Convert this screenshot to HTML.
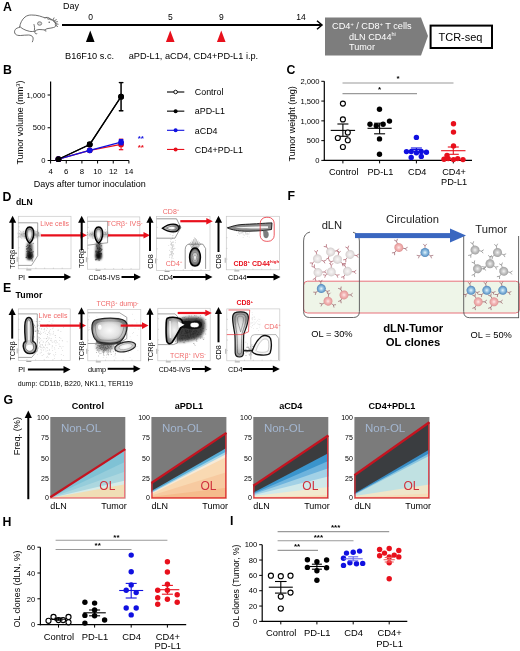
<!DOCTYPE html>
<html><head><meta charset="utf-8"><style>
html,body{margin:0;padding:0;background:#fff;}
body{width:520px;height:651px;overflow:hidden;}
svg{display:block;font-family:'Liberation Sans', Arial, Helvetica, sans-serif;}
</style></head><body>
<svg width="520" height="651" viewBox="0 0 520 651">
<rect width="520" height="651" fill="#fff"/>
<text x="3.0" y="10.6" font-size="12.3" text-anchor="start" fill="#000" font-weight="bold" >A</text>
<g fill="none" stroke="#4a4a4a" stroke-width="0.8" stroke-linecap="round" stroke-linejoin="round">
<path d="M19.8,26.5 C20,23.5 22,19.5 25,17 C27,15.5 29,15 31.5,15 C34.5,15 37,15.3 39.5,16 C41.5,16.6 43.2,17.3 45,17.8"/>
<path d="M45,17.8 C46.5,17 48.5,17.3 49.8,18.5 C51.5,19.3 53.2,20.2 54.4,21.3 C55.5,22.5 56.2,24 56,25.3 C55.7,26.5 54.8,27.2 53.5,27.5 C52,28 50,28.2 48,28.5 C46.5,28.8 45.3,29.3 45,30 C44.8,30.7 45.2,31.2 46,31.1"/>
<path d="M45,30 C43.5,29.9 41,29.4 39,29.5 C37.3,29.6 36,30.2 35.2,31 C34.5,31.8 34.8,33 35.5,33.6 C36,34 36.8,34 37,33.6"/>
<path d="M35.2,31 C33.5,31.6 31.5,31.7 29.5,31.3 C27,30.8 25,30 23.2,29 C21.8,28.3 20.5,27.5 19.8,26.5"/>
<path d="M19.8,27.3 C18,27.6 16.2,28.3 15.2,29.6 C14.3,31 14.3,32.8 15.3,34 C16.5,35.3 18.5,35.6 20.5,35.5 C23,35.3 26,35 28.5,35 C30.5,35.1 32,35.8 32.8,37 C33.4,38.3 33.2,40 32.4,41.8"/>
<path d="M34,24.5 C34.6,26.5 34.8,28.5 34.4,30.2"/>
<path d="M46.3,17.6 C47,18.6 48,19.2 49,19.4 M48.8,18.2 C49.6,19.2 50.4,19.8 51.4,20"/>
<path d="M53.5,21.3 l2.8,-1.6 M54.5,22.3 l3,-0.6 M55.3,23.6 l2.8,0.6 M55.2,25 l2.4,1.5 M52.8,20.3 l1.2,-2.4"/>
</g>
<ellipse cx="39.6" cy="23.5" rx="2.1" ry="1.75" fill="#ddd" stroke="#555" stroke-width="0.7"/>
<circle cx="49.2" cy="22.2" r="0.7" fill="#444"/>
<text x="63" y="8.8" font-size="9" text-anchor="start" fill="#000" >Day</text>
<line x1="62" y1="25" x2="321.5" y2="25" stroke="#000" stroke-width="1.8" />
<polyline points="317,20.8 322,25 317,29.2" fill="none" stroke="#000" stroke-width="1.5"/>
<text x="90.6" y="20.2" font-size="8.5" text-anchor="middle" fill="#000" >0</text>
<text x="170.3" y="20.2" font-size="8.5" text-anchor="middle" fill="#000" >5</text>
<text x="221.3" y="20.2" font-size="8.5" text-anchor="middle" fill="#000" >9</text>
<text x="301" y="20.2" font-size="8.5" text-anchor="middle" fill="#000" >14</text>
<polygon points="85.95,42 94.55,42 90.25,30.5" fill="#000"/>
<polygon points="165.95,42 174.55,42 170.25,30.5" fill="#e8101c"/>
<polygon points="216.95,42 225.55,42 221.25,30.5" fill="#e8101c"/>
<text x="65" y="58.8" font-size="9.2" text-anchor="start" fill="#000" >B16F10 s.c.</text>
<text x="128.7" y="58.8" font-size="9.2" text-anchor="start" fill="#000" >aPD-L1, aCD4, CD4+PD-L1 i.p.</text>
<polygon points="325,17.5 421,17.5 428,36 421,55.4 325,55.4" fill="#7d7d7d"/>
<text x="332" y="29.3" font-size="9.2" text-anchor="start" fill="#fff" >CD4<tspan font-size="5.5" dy="-3.5">+</tspan><tspan dy="3.5"> / CD8</tspan><tspan font-size="5.5" dy="-3.5">+</tspan><tspan dy="3.5"> T cells</tspan></text>
<text x="349" y="39.8" font-size="9.1" text-anchor="start" fill="#fff" >dLN CD44<tspan font-size="5.5" dy="-3.5">hi</tspan></text>
<text x="349" y="49.9" font-size="9.1" text-anchor="start" fill="#fff" >Tumor</text>
<rect x="430.6" y="25.6" width="61.4" height="22.4" fill="#fff" stroke="#000" stroke-width="2"/>
<text x="460.5" y="41.2" font-size="11" text-anchor="middle" fill="#000" >TCR-seq</text>
<text x="3.0" y="74.2" font-size="12.3" text-anchor="start" fill="#000" font-weight="bold" >B</text>
<line x1="50.6" y1="81.6" x2="50.6" y2="161.1" stroke="#000" stroke-width="1.2" />
<line x1="50.0" y1="160.5" x2="128.9" y2="160.5" stroke="#000" stroke-width="1.2" />
<line x1="47.6" y1="95.0" x2="50.6" y2="95.0" stroke="#000" stroke-width="1" />
<text x="45.5" y="97.7" font-size="7.6" text-anchor="end" fill="#000" >1,000</text>
<line x1="47.6" y1="127.75" x2="50.6" y2="127.75" stroke="#000" stroke-width="1" />
<text x="45.5" y="130.45" font-size="7.6" text-anchor="end" fill="#000" >500</text>
<line x1="47.6" y1="160.5" x2="50.6" y2="160.5" stroke="#000" stroke-width="1" />
<text x="45.5" y="163.2" font-size="7.6" text-anchor="end" fill="#000" >0</text>
<line x1="50.6" y1="160.5" x2="50.6" y2="163.5" stroke="#000" stroke-width="1" />
<text x="50.6" y="173.7" font-size="7.8" text-anchor="middle" fill="#000" >4</text>
<line x1="66.26" y1="160.5" x2="66.26" y2="163.5" stroke="#000" stroke-width="1" />
<text x="66.26" y="173.7" font-size="7.8" text-anchor="middle" fill="#000" >6</text>
<line x1="81.92" y1="160.5" x2="81.92" y2="163.5" stroke="#000" stroke-width="1" />
<text x="81.92" y="173.7" font-size="7.8" text-anchor="middle" fill="#000" >8</text>
<line x1="97.58000000000001" y1="160.5" x2="97.58000000000001" y2="163.5" stroke="#000" stroke-width="1" />
<text x="97.58000000000001" y="173.7" font-size="7.8" text-anchor="middle" fill="#000" >10</text>
<line x1="113.24000000000001" y1="160.5" x2="113.24000000000001" y2="163.5" stroke="#000" stroke-width="1" />
<text x="113.24000000000001" y="173.7" font-size="7.8" text-anchor="middle" fill="#000" >12</text>
<line x1="128.9" y1="160.5" x2="128.9" y2="163.5" stroke="#000" stroke-width="1" />
<text x="128.9" y="173.7" font-size="7.8" text-anchor="middle" fill="#000" >14</text>
<text x="33.8" y="186.5" font-size="9.0" text-anchor="start" fill="#000" >Days after tumor inoculation</text>
<text transform="translate(23.3,122.5) rotate(-90)" font-size="9.0" text-anchor="middle">Tumor volume (mm<tspan font-size="5.8" dy="-3.4">3</tspan><tspan dy="3.4">)</tspan></text>
<line x1="58.43" y1="158.666" x2="58.43" y2="159.714" stroke="#000" stroke-width="1" />
<line x1="56.23" y1="158.666" x2="60.63" y2="158.666" stroke="#000" stroke-width="1.2" />
<line x1="56.23" y1="159.714" x2="60.63" y2="159.714" stroke="#000" stroke-width="1.2" />
<line x1="89.75" y1="142.4875" x2="89.75" y2="146.4175" stroke="#000" stroke-width="1" />
<line x1="87.55" y1="142.4875" x2="91.95" y2="142.4875" stroke="#000" stroke-width="1.2" />
<line x1="87.55" y1="146.4175" x2="91.95" y2="146.4175" stroke="#000" stroke-width="1.2" />
<line x1="121.07" y1="82.55499999999999" x2="121.07" y2="110.72" stroke="#000" stroke-width="1" />
<line x1="118.86999999999999" y1="82.55499999999999" x2="123.27" y2="82.55499999999999" stroke="#000" stroke-width="1.2" />
<line x1="118.86999999999999" y1="110.72" x2="123.27" y2="110.72" stroke="#000" stroke-width="1.2" />
<polyline points="58.43,159.19 89.75,144.45 121.07,96.64" fill="none" stroke="#000" stroke-width="1.2"/>
<circle cx="58.43" cy="159.19" r="2.9" fill="#000" stroke="none" stroke-width="1"/>
<circle cx="89.75" cy="144.45" r="2.9" fill="#000" stroke="none" stroke-width="1"/>
<circle cx="121.07" cy="96.64" r="2.9" fill="#000" stroke="none" stroke-width="1"/>
<line x1="58.43" y1="158.666" x2="58.43" y2="159.714" stroke="#e8101c" stroke-width="1" />
<line x1="56.23" y1="158.666" x2="60.63" y2="158.666" stroke="#e8101c" stroke-width="1.2" />
<line x1="56.23" y1="159.714" x2="60.63" y2="159.714" stroke="#e8101c" stroke-width="1.2" />
<line x1="89.75" y1="149.0375" x2="89.75" y2="151.6575" stroke="#e8101c" stroke-width="1" />
<line x1="87.55" y1="149.0375" x2="91.95" y2="149.0375" stroke="#e8101c" stroke-width="1.2" />
<line x1="87.55" y1="151.6575" x2="91.95" y2="151.6575" stroke="#e8101c" stroke-width="1.2" />
<line x1="121.07" y1="139.2125" x2="121.07" y2="149.6925" stroke="#e8101c" stroke-width="1" />
<line x1="118.86999999999999" y1="139.2125" x2="123.27" y2="139.2125" stroke="#e8101c" stroke-width="1.2" />
<line x1="118.86999999999999" y1="149.6925" x2="123.27" y2="149.6925" stroke="#e8101c" stroke-width="1.2" />
<polyline points="58.43,159.19 89.75,150.35 121.07,144.45" fill="none" stroke="#e8101c" stroke-width="1.2"/>
<circle cx="58.43" cy="159.19" r="2.9" fill="#e8101c" stroke="none" stroke-width="1"/>
<circle cx="89.75" cy="150.35" r="2.9" fill="#e8101c" stroke="none" stroke-width="1"/>
<circle cx="121.07" cy="144.45" r="2.9" fill="#e8101c" stroke="none" stroke-width="1"/>
<line x1="58.43" y1="158.666" x2="58.43" y2="159.714" stroke="#1010e0" stroke-width="1" />
<line x1="56.23" y1="158.666" x2="60.63" y2="158.666" stroke="#1010e0" stroke-width="1.2" />
<line x1="56.23" y1="159.714" x2="60.63" y2="159.714" stroke="#1010e0" stroke-width="1.2" />
<line x1="89.75" y1="149.0375" x2="89.75" y2="151.6575" stroke="#1010e0" stroke-width="1" />
<line x1="87.55" y1="149.0375" x2="91.95" y2="149.0375" stroke="#1010e0" stroke-width="1.2" />
<line x1="87.55" y1="151.6575" x2="91.95" y2="151.6575" stroke="#1010e0" stroke-width="1.2" />
<line x1="121.07" y1="139.54" x2="121.07" y2="144.78" stroke="#1010e0" stroke-width="1" />
<line x1="118.86999999999999" y1="139.54" x2="123.27" y2="139.54" stroke="#1010e0" stroke-width="1.2" />
<line x1="118.86999999999999" y1="144.78" x2="123.27" y2="144.78" stroke="#1010e0" stroke-width="1.2" />
<polyline points="58.43,159.19 89.75,150.35 121.07,142.16" fill="none" stroke="#1010e0" stroke-width="1.2"/>
<circle cx="58.43" cy="159.19" r="2.9" fill="#1010e0" stroke="none" stroke-width="1"/>
<circle cx="89.75" cy="150.35" r="2.9" fill="#1010e0" stroke="none" stroke-width="1"/>
<circle cx="121.07" cy="142.16" r="2.9" fill="#1010e0" stroke="none" stroke-width="1"/>
<line x1="58.43" y1="158.666" x2="58.43" y2="159.714" stroke="#000" stroke-width="1" />
<line x1="56.23" y1="158.666" x2="60.63" y2="158.666" stroke="#000" stroke-width="1.2" />
<line x1="56.23" y1="159.714" x2="60.63" y2="159.714" stroke="#000" stroke-width="1.2" />
<line x1="89.75" y1="142.4875" x2="89.75" y2="146.4175" stroke="#000" stroke-width="1" />
<line x1="87.55" y1="142.4875" x2="91.95" y2="142.4875" stroke="#000" stroke-width="1.2" />
<line x1="87.55" y1="146.4175" x2="91.95" y2="146.4175" stroke="#000" stroke-width="1.2" />
<line x1="121.07" y1="82.55499999999999" x2="121.07" y2="110.72" stroke="#000" stroke-width="1" />
<line x1="118.86999999999999" y1="82.55499999999999" x2="123.27" y2="82.55499999999999" stroke="#000" stroke-width="1.2" />
<line x1="118.86999999999999" y1="110.72" x2="123.27" y2="110.72" stroke="#000" stroke-width="1.2" />
<polyline points="58.43,159.19 89.75,144.45 121.07,96.64" fill="none" stroke="#000" stroke-width="1.2"/>
<circle cx="58.43" cy="159.19" r="2.9" fill="#000" stroke="none" stroke-width="1"/>
<circle cx="89.75" cy="144.45" r="2.9" fill="#000" stroke="none" stroke-width="1"/>
<circle cx="121.07" cy="96.64" r="2.9" fill="#000" stroke="none" stroke-width="1"/>
<text x="140.8" y="140.98" font-size="8.0" text-anchor="middle" fill="#1010e0" font-weight="bold" >**</text>
<text x="140.8" y="150.28" font-size="8.0" text-anchor="middle" fill="#e8101c" font-weight="bold" >**</text>
<line x1="167" y1="92.0" x2="184.3" y2="92.0" stroke="#000" stroke-width="1.1" />
<circle cx="175.60" cy="92.00" r="1.8" fill="#fff" stroke="#000" stroke-width="0.9"/>
<text x="194.8" y="95.2" font-size="8.9" text-anchor="start" fill="#000" >Control</text>
<line x1="167" y1="111.15" x2="184.3" y2="111.15" stroke="#000" stroke-width="1.1" />
<circle cx="175.60" cy="111.15" r="2.0" fill="#000" stroke="none" stroke-width="1"/>
<text x="194.8" y="114.35000000000001" font-size="8.9" text-anchor="start" fill="#000" >aPD-L1</text>
<line x1="167" y1="130.3" x2="184.3" y2="130.3" stroke="#1010e0" stroke-width="1.1" />
<circle cx="175.60" cy="130.30" r="2.0" fill="#1010e0" stroke="none" stroke-width="1"/>
<text x="194.8" y="133.5" font-size="8.9" text-anchor="start" fill="#000" >aCD4</text>
<line x1="167" y1="149.45" x2="184.3" y2="149.45" stroke="#e8101c" stroke-width="1.1" />
<circle cx="175.60" cy="149.45" r="2.0" fill="#e8101c" stroke="none" stroke-width="1"/>
<text x="194.8" y="152.64999999999998" font-size="8.9" text-anchor="start" fill="#000" >CD4+PD-L1</text>
<text x="286.6" y="74.3" font-size="12.3" text-anchor="start" fill="#000" font-weight="bold" >C</text>
<line x1="324.3" y1="81.3" x2="324.3" y2="161.0" stroke="#000" stroke-width="1.2" />
<line x1="323.7" y1="160.4" x2="472" y2="160.4" stroke="#000" stroke-width="1.2" />
<line x1="321.3" y1="160.4" x2="324.3" y2="160.4" stroke="#000" stroke-width="1" />
<text x="319.5" y="163.1" font-size="7.6" text-anchor="end" fill="#000" >0</text>
<line x1="321.3" y1="140.625" x2="324.3" y2="140.625" stroke="#000" stroke-width="1" />
<text x="319.5" y="143.325" font-size="7.6" text-anchor="end" fill="#000" >500</text>
<line x1="321.3" y1="120.85000000000001" x2="324.3" y2="120.85000000000001" stroke="#000" stroke-width="1" />
<text x="319.5" y="123.55000000000001" font-size="7.6" text-anchor="end" fill="#000" >1,000</text>
<line x1="321.3" y1="101.07500000000002" x2="324.3" y2="101.07500000000002" stroke="#000" stroke-width="1" />
<text x="319.5" y="103.77500000000002" font-size="7.6" text-anchor="end" fill="#000" >1,500</text>
<line x1="321.3" y1="81.30000000000001" x2="324.3" y2="81.30000000000001" stroke="#000" stroke-width="1" />
<text x="319.5" y="84.00000000000001" font-size="7.6" text-anchor="end" fill="#000" >2,000</text>
<text transform="translate(295.4,123.9) rotate(-90)" font-size="9.0" text-anchor="middle">Tumor weight (mg)</text>
<line x1="342.9" y1="160.4" x2="342.9" y2="163.4" stroke="#000" stroke-width="1" />
<line x1="379.6" y1="160.4" x2="379.6" y2="163.4" stroke="#000" stroke-width="1" />
<line x1="416.4" y1="160.4" x2="416.4" y2="163.4" stroke="#000" stroke-width="1" />
<line x1="453.3" y1="160.4" x2="453.3" y2="163.4" stroke="#000" stroke-width="1" />
<text x="343.7" y="175.2" font-size="9.2" text-anchor="middle" fill="#000" >Control</text>
<text x="380.40000000000003" y="175.2" font-size="9.2" text-anchor="middle" fill="#000" >PD-L1</text>
<text x="417.2" y="175.2" font-size="9.2" text-anchor="middle" fill="#000" >CD4</text>
<text x="454.1" y="175.2" font-size="9.2" text-anchor="middle" fill="#000" >CD4+</text>
<text x="454.1" y="184.9" font-size="9.2" text-anchor="middle" fill="#000" >PD-L1</text>
<line x1="342.5" y1="83" x2="453.5" y2="83" stroke="#9a9a9a" stroke-width="1.1" />
<line x1="342.5" y1="93.6" x2="417" y2="93.6" stroke="#9a9a9a" stroke-width="1.1" />
<text x="398" y="80.98" font-size="8.0" text-anchor="middle" fill="#000" font-weight="bold" >*</text>
<text x="379.5" y="91.68" font-size="8.0" text-anchor="middle" fill="#000" font-weight="bold" >*</text>
<line x1="330.7" y1="130.4" x2="355.09999999999997" y2="130.4" stroke="#000" stroke-width="1.1" />
<line x1="342.9" y1="124" x2="342.9" y2="136.3" stroke="#000" stroke-width="1.1" />
<line x1="337.4" y1="124" x2="348.4" y2="124" stroke="#000" stroke-width="1.1" />
<line x1="337.4" y1="136.3" x2="348.4" y2="136.3" stroke="#000" stroke-width="1.1" />
<circle cx="342.90" cy="103.60" r="2.5" fill="#fff" stroke="#000" stroke-width="1.15"/>
<circle cx="342.90" cy="119.40" r="2.5" fill="#fff" stroke="#000" stroke-width="1.15"/>
<circle cx="347.80" cy="132.50" r="2.5" fill="#fff" stroke="#000" stroke-width="1.15"/>
<circle cx="337.80" cy="138.00" r="2.5" fill="#fff" stroke="#000" stroke-width="1.15"/>
<circle cx="347.80" cy="140.20" r="2.5" fill="#fff" stroke="#000" stroke-width="1.15"/>
<circle cx="342.90" cy="147.00" r="2.5" fill="#fff" stroke="#000" stroke-width="1.15"/>
<circle cx="379.50" cy="109.30" r="2.7" fill="#000" stroke="none" stroke-width="1"/>
<circle cx="370.00" cy="124.30" r="2.7" fill="#000" stroke="none" stroke-width="1"/>
<circle cx="376.30" cy="125.80" r="2.7" fill="#000" stroke="none" stroke-width="1"/>
<circle cx="383.10" cy="124.30" r="2.7" fill="#000" stroke="none" stroke-width="1"/>
<circle cx="389.50" cy="121.10" r="2.7" fill="#000" stroke="none" stroke-width="1"/>
<circle cx="379.50" cy="138.90" r="2.7" fill="#000" stroke="none" stroke-width="1"/>
<circle cx="379.50" cy="154.30" r="2.7" fill="#000" stroke="none" stroke-width="1"/>
<line x1="367.5" y1="128.3" x2="391.70000000000005" y2="128.3" stroke="#000" stroke-width="1.1" />
<line x1="379.6" y1="123.2" x2="379.6" y2="133.8" stroke="#000" stroke-width="1.1" />
<line x1="374.1" y1="123.2" x2="385.1" y2="123.2" stroke="#000" stroke-width="1.1" />
<line x1="374.1" y1="133.8" x2="385.1" y2="133.8" stroke="#000" stroke-width="1.1" />
<circle cx="416.40" cy="137.40" r="2.7" fill="#1010e0" stroke="none" stroke-width="1"/>
<circle cx="406.50" cy="151.60" r="2.7" fill="#1010e0" stroke="none" stroke-width="1"/>
<circle cx="411.20" cy="151.60" r="2.7" fill="#1010e0" stroke="none" stroke-width="1"/>
<circle cx="416.40" cy="152.80" r="2.7" fill="#1010e0" stroke="none" stroke-width="1"/>
<circle cx="421.30" cy="151.60" r="2.7" fill="#1010e0" stroke="none" stroke-width="1"/>
<circle cx="426.40" cy="152.20" r="2.7" fill="#1010e0" stroke="none" stroke-width="1"/>
<circle cx="411.20" cy="157.50" r="2.7" fill="#1010e0" stroke="none" stroke-width="1"/>
<circle cx="421.30" cy="156.40" r="2.7" fill="#1010e0" stroke="none" stroke-width="1"/>
<line x1="410.0" y1="149.5" x2="422.79999999999995" y2="149.5" stroke="#1010e0" stroke-width="1.1" />
<line x1="416.4" y1="148" x2="416.4" y2="151.3" stroke="#1010e0" stroke-width="1.1" />
<line x1="410.9" y1="148" x2="421.9" y2="148" stroke="#1010e0" stroke-width="1.1" />
<line x1="410.9" y1="151.3" x2="421.9" y2="151.3" stroke="#1010e0" stroke-width="1.1" />
<circle cx="453.50" cy="123.70" r="2.7" fill="#e8101c" stroke="none" stroke-width="1"/>
<circle cx="453.50" cy="132.10" r="2.7" fill="#e8101c" stroke="none" stroke-width="1"/>
<circle cx="453.50" cy="145.90" r="2.7" fill="#e8101c" stroke="none" stroke-width="1"/>
<circle cx="444.00" cy="159.20" r="2.7" fill="#e8101c" stroke="none" stroke-width="1"/>
<circle cx="448.20" cy="158.60" r="2.7" fill="#e8101c" stroke="none" stroke-width="1"/>
<circle cx="453.50" cy="159.60" r="2.7" fill="#e8101c" stroke="none" stroke-width="1"/>
<circle cx="457.70" cy="158.60" r="2.7" fill="#e8101c" stroke="none" stroke-width="1"/>
<circle cx="463.00" cy="159.60" r="2.7" fill="#e8101c" stroke="none" stroke-width="1"/>
<circle cx="447.00" cy="155.40" r="2.7" fill="#e8101c" stroke="none" stroke-width="1"/>
<line x1="441.1" y1="150.7" x2="465.5" y2="150.7" stroke="#e8101c" stroke-width="1.1" />
<line x1="453.3" y1="147" x2="453.3" y2="154.3" stroke="#e8101c" stroke-width="1.1" />
<line x1="447.8" y1="147" x2="458.8" y2="147" stroke="#e8101c" stroke-width="1.1" />
<line x1="447.8" y1="154.3" x2="458.8" y2="154.3" stroke="#e8101c" stroke-width="1.1" />
<defs><filter id="blr" x="-30%" y="-30%" width="160%" height="160%"><feGaussianBlur stdDeviation="1.6"/></filter><filter id="blr2" x="-30%" y="-30%" width="160%" height="160%"><feGaussianBlur stdDeviation="0.8"/></filter></defs>
<text x="2.6" y="200.8" font-size="12.3" text-anchor="start" fill="#000" font-weight="bold" >D</text>
<text x="16" y="205.4" font-size="8.6" text-anchor="start" fill="#000" font-weight="bold" >dLN</text>
<rect x="18.3" y="216.3" width="52.7" height="52.5" fill="#fff" stroke="#c8c8c8" stroke-width="0.7"/>
<line x1="27.083333333333336" y1="267.6" x2="27.083333333333336" y2="268.8" stroke="#aaa" stroke-width="0.4" />
<line x1="35.86666666666667" y1="267.6" x2="35.86666666666667" y2="268.8" stroke="#aaa" stroke-width="0.4" />
<line x1="44.650000000000006" y1="267.6" x2="44.650000000000006" y2="268.8" stroke="#aaa" stroke-width="0.4" />
<line x1="53.43333333333334" y1="267.6" x2="53.43333333333334" y2="268.8" stroke="#aaa" stroke-width="0.4" />
<line x1="62.21666666666667" y1="267.6" x2="62.21666666666667" y2="268.8" stroke="#aaa" stroke-width="0.4" />
<line x1="18.3" y1="226.8" x2="19.5" y2="226.8" stroke="#aaa" stroke-width="0.4" />
<line x1="18.3" y1="237.3" x2="19.5" y2="237.3" stroke="#aaa" stroke-width="0.4" />
<line x1="18.3" y1="247.8" x2="19.5" y2="247.8" stroke="#aaa" stroke-width="0.4" />
<line x1="18.3" y1="258.3" x2="19.5" y2="258.3" stroke="#aaa" stroke-width="0.4" />
<rect x="26.3" y="269.40000000000003" width="5" height="1" fill="#666" opacity="0.6"/>
<rect x="16.7" y="256.8" width="1" height="5" fill="#666" opacity="0.5"/>
<polyline points="18.3,222.8 37.7,222.8 37.7,255.8 31.5,265.4 18.3,265.4" fill="none" stroke="#666" stroke-width="0.6"/>
<ellipse cx="29.7" cy="234.6" rx="11" ry="3.6" fill="#777" opacity="0.45" filter="url(#blr2)"/>
<g fill="#333" opacity="0.45"><circle cx="28.2" cy="235.6" r="0.4"/><circle cx="28.3" cy="233.8" r="0.4"/><circle cx="24.1" cy="234.0" r="0.4"/><circle cx="36.4" cy="235.4" r="0.4"/><circle cx="35.9" cy="235.0" r="0.4"/><circle cx="32.1" cy="234.9" r="0.4"/><circle cx="19.7" cy="236.4" r="0.4"/><circle cx="32.7" cy="235.6" r="0.4"/><circle cx="19.6" cy="230.7" r="0.4"/><circle cx="24.4" cy="233.5" r="0.4"/><circle cx="31.5" cy="234.4" r="0.4"/><circle cx="32.8" cy="233.1" r="0.4"/><circle cx="31.6" cy="235.4" r="0.4"/><circle cx="25.7" cy="238.3" r="0.4"/><circle cx="33.0" cy="237.1" r="0.4"/><circle cx="26.0" cy="232.9" r="0.4"/><circle cx="27.6" cy="234.3" r="0.4"/><circle cx="33.5" cy="235.0" r="0.4"/><circle cx="27.0" cy="232.4" r="0.4"/><circle cx="26.6" cy="237.2" r="0.4"/><circle cx="24.9" cy="235.0" r="0.4"/><circle cx="32.3" cy="231.2" r="0.4"/><circle cx="30.0" cy="237.4" r="0.4"/><circle cx="29.1" cy="232.7" r="0.4"/><circle cx="32.7" cy="234.4" r="0.4"/><circle cx="20.9" cy="236.3" r="0.4"/><circle cx="33.7" cy="236.6" r="0.4"/><circle cx="38.3" cy="235.3" r="0.4"/><circle cx="30.4" cy="231.6" r="0.4"/><circle cx="33.4" cy="233.2" r="0.4"/><circle cx="27.0" cy="231.7" r="0.4"/><circle cx="23.9" cy="233.3" r="0.4"/><circle cx="37.4" cy="230.0" r="0.4"/><circle cx="21.0" cy="235.0" r="0.4"/><circle cx="38.4" cy="235.8" r="0.4"/><circle cx="31.8" cy="232.9" r="0.4"/><circle cx="23.0" cy="236.7" r="0.4"/><circle cx="36.3" cy="234.8" r="0.4"/><circle cx="31.2" cy="235.5" r="0.4"/><circle cx="39.3" cy="235.9" r="0.4"/><circle cx="32.8" cy="235.7" r="0.4"/><circle cx="20.3" cy="237.3" r="0.4"/><circle cx="35.4" cy="235.7" r="0.4"/><circle cx="17.9" cy="233.1" r="0.4"/><circle cx="34.8" cy="230.5" r="0.4"/><circle cx="28.6" cy="236.7" r="0.4"/><circle cx="21.8" cy="238.0" r="0.4"/><circle cx="33.0" cy="234.2" r="0.4"/><circle cx="31.6" cy="235.9" r="0.4"/><circle cx="30.4" cy="237.0" r="0.4"/><circle cx="25.7" cy="233.6" r="0.4"/><circle cx="36.0" cy="234.6" r="0.4"/><circle cx="24.4" cy="236.6" r="0.4"/><circle cx="38.5" cy="233.5" r="0.4"/><circle cx="21.4" cy="234.2" r="0.4"/><circle cx="28.8" cy="233.8" r="0.4"/><circle cx="38.1" cy="232.2" r="0.4"/><circle cx="37.3" cy="231.7" r="0.4"/><circle cx="25.0" cy="235.9" r="0.4"/><circle cx="36.5" cy="236.4" r="0.4"/><circle cx="31.8" cy="234.8" r="0.4"/><circle cx="30.6" cy="235.8" r="0.4"/><circle cx="28.6" cy="235.1" r="0.4"/><circle cx="33.1" cy="234.5" r="0.4"/><circle cx="34.3" cy="235.7" r="0.4"/><circle cx="41.8" cy="235.2" r="0.4"/><circle cx="27.1" cy="233.7" r="0.4"/><circle cx="29.6" cy="236.5" r="0.4"/><circle cx="27.7" cy="235.3" r="0.4"/><circle cx="23.0" cy="235.0" r="0.4"/><circle cx="32.1" cy="235.0" r="0.4"/><circle cx="27.1" cy="235.9" r="0.4"/><circle cx="31.4" cy="233.4" r="0.4"/><circle cx="26.4" cy="234.3" r="0.4"/><circle cx="28.3" cy="234.4" r="0.4"/><circle cx="35.8" cy="231.9" r="0.4"/><circle cx="29.3" cy="236.6" r="0.4"/><circle cx="34.8" cy="237.8" r="0.4"/><circle cx="19.5" cy="233.7" r="0.4"/><circle cx="27.7" cy="235.9" r="0.4"/><circle cx="36.2" cy="231.3" r="0.4"/><circle cx="33.8" cy="231.2" r="0.4"/><circle cx="30.8" cy="237.1" r="0.4"/><circle cx="28.8" cy="234.9" r="0.4"/><circle cx="34.5" cy="234.8" r="0.4"/><circle cx="29.2" cy="237.9" r="0.4"/><circle cx="36.0" cy="233.9" r="0.4"/><circle cx="35.2" cy="233.9" r="0.4"/><circle cx="30.5" cy="236.1" r="0.4"/><circle cx="31.0" cy="235.9" r="0.4"/><circle cx="20.5" cy="231.2" r="0.4"/><circle cx="33.4" cy="232.4" r="0.4"/><circle cx="23.5" cy="231.3" r="0.4"/><circle cx="37.3" cy="236.1" r="0.4"/><circle cx="38.5" cy="232.4" r="0.4"/><circle cx="29.7" cy="232.0" r="0.4"/><circle cx="34.3" cy="238.0" r="0.4"/><circle cx="24.4" cy="237.9" r="0.4"/><circle cx="35.6" cy="234.1" r="0.4"/><circle cx="17.9" cy="237.6" r="0.4"/><circle cx="29.1" cy="233.2" r="0.4"/><circle cx="32.1" cy="235.4" r="0.4"/><circle cx="38.7" cy="232.3" r="0.4"/><circle cx="36.5" cy="237.8" r="0.4"/><circle cx="38.4" cy="234.1" r="0.4"/><circle cx="25.2" cy="236.7" r="0.4"/><circle cx="30.4" cy="234.8" r="0.4"/><circle cx="38.2" cy="233.9" r="0.4"/><circle cx="18.6" cy="236.3" r="0.4"/><circle cx="31.6" cy="233.2" r="0.4"/><circle cx="29.6" cy="236.3" r="0.4"/><circle cx="30.2" cy="237.4" r="0.4"/></g>
<path d="M27.099999999999998,243 C26.5,248 26.3,254 26.9,258.5 C28.2,260.5 31.2,260.5 32.5,258.5 C33.1,254 32.9,248 32.3,243 Z" fill="#444" opacity="0.9" filter="url(#blr2)"/>
<g fill="#111" opacity="0.7"><circle cx="29.6" cy="257.2" r="0.5"/><circle cx="32.4" cy="260.0" r="0.5"/><circle cx="28.5" cy="256.4" r="0.5"/><circle cx="26.3" cy="246.6" r="0.5"/><circle cx="26.2" cy="257.3" r="0.5"/><circle cx="27.5" cy="251.9" r="0.5"/><circle cx="29.4" cy="251.9" r="0.5"/><circle cx="28.6" cy="253.2" r="0.5"/><circle cx="32.9" cy="252.2" r="0.5"/><circle cx="30.7" cy="257.0" r="0.5"/><circle cx="29.3" cy="245.7" r="0.5"/><circle cx="28.7" cy="257.4" r="0.5"/><circle cx="26.7" cy="249.0" r="0.5"/><circle cx="31.5" cy="256.0" r="0.5"/><circle cx="29.7" cy="256.0" r="0.5"/><circle cx="30.0" cy="246.1" r="0.5"/><circle cx="26.9" cy="248.8" r="0.5"/><circle cx="31.4" cy="249.2" r="0.5"/><circle cx="28.1" cy="248.1" r="0.5"/><circle cx="26.9" cy="251.4" r="0.5"/><circle cx="27.6" cy="253.8" r="0.5"/><circle cx="28.5" cy="242.3" r="0.5"/><circle cx="31.0" cy="250.6" r="0.5"/><circle cx="30.2" cy="249.7" r="0.5"/><circle cx="31.1" cy="255.7" r="0.5"/><circle cx="30.9" cy="253.6" r="0.5"/><circle cx="32.1" cy="255.3" r="0.5"/><circle cx="31.3" cy="258.5" r="0.5"/><circle cx="29.2" cy="249.7" r="0.5"/><circle cx="33.2" cy="243.2" r="0.5"/><circle cx="28.0" cy="255.4" r="0.5"/><circle cx="33.1" cy="251.4" r="0.5"/><circle cx="30.7" cy="256.5" r="0.5"/><circle cx="28.1" cy="251.6" r="0.5"/><circle cx="30.2" cy="256.1" r="0.5"/><circle cx="29.6" cy="251.0" r="0.5"/><circle cx="27.9" cy="250.2" r="0.5"/><circle cx="31.3" cy="252.5" r="0.5"/><circle cx="28.2" cy="247.8" r="0.5"/><circle cx="30.8" cy="254.4" r="0.5"/><circle cx="32.7" cy="254.1" r="0.5"/><circle cx="29.6" cy="254.6" r="0.5"/><circle cx="26.2" cy="257.2" r="0.5"/><circle cx="30.3" cy="248.5" r="0.5"/><circle cx="32.1" cy="261.0" r="0.5"/><circle cx="27.2" cy="248.7" r="0.5"/><circle cx="30.2" cy="252.9" r="0.5"/><circle cx="29.0" cy="247.1" r="0.5"/><circle cx="27.6" cy="245.3" r="0.5"/><circle cx="32.8" cy="256.9" r="0.5"/><circle cx="33.0" cy="256.1" r="0.5"/><circle cx="28.1" cy="253.3" r="0.5"/><circle cx="29.6" cy="254.6" r="0.5"/><circle cx="28.4" cy="251.4" r="0.5"/><circle cx="30.5" cy="253.9" r="0.5"/><circle cx="30.8" cy="253.0" r="0.5"/><circle cx="29.1" cy="255.9" r="0.5"/><circle cx="29.8" cy="247.9" r="0.5"/><circle cx="28.6" cy="252.0" r="0.5"/><circle cx="29.5" cy="252.8" r="0.5"/><circle cx="29.7" cy="252.9" r="0.5"/><circle cx="29.5" cy="245.7" r="0.5"/></g>
<ellipse cx="29.7" cy="255.8" rx="2.8" ry="3.4" fill="#111" filter="url(#blr2)"/>
<defs><radialGradient id="g1"><stop offset="0" stop-color="#fdfdfd"/><stop offset="0.35" stop-color="#e8e8e8"/><stop offset="0.7" stop-color="#a8a8a8"/><stop offset="1" stop-color="#707070"/></radialGradient></defs>
<path d="M29.7,227 C35.64,227 34.54,239.2 29.7,243.2 C24.86,239.2 23.759999999999998,227 29.7,227 Z" fill="url(#g1)" stroke="#000" stroke-width="1.4"/>
<path d="M29.7,229.2 C33.345,229.2 32.67,236.8 29.7,240.8 C26.729999999999997,236.8 26.055,229.2 29.7,229.2 Z" fill="none" stroke="#555" stroke-width="0.5"/>
<text x="40.3" y="226.2" font-size="7.0" text-anchor="start" fill="#f06a6a" >Live cells</text>
<line x1="40.8" y1="235.3" x2="82" y2="235.3" stroke="#e8101c" stroke-width="2.2" />
<polygon points="80.5,232.0 80.5,238.60000000000002 87,235.3" fill="#e8101c"/>
<line x1="12.6" y1="220.8" x2="12.6" y2="249" stroke="#000" stroke-width="2" />
<polygon points="9.0,222.8 16.2,222.8 12.6,215.8" fill="#000"/>
<text transform="translate(15.2,259.3) rotate(-90)" font-size="7.3" text-anchor="middle">TCRβ</text>
<text x="18.2" y="279.6" font-size="7.3">PI</text>
<line x1="28.5" y1="277" x2="66.2" y2="277" stroke="#000" stroke-width="2" />
<polygon points="64.2,273.4 64.2,280.6 71.2,277" fill="#000"/>
<rect x="87.5" y="216.9" width="52.30000000000001" height="52.29999999999998" fill="#fff" stroke="#c8c8c8" stroke-width="0.7"/>
<line x1="96.21666666666667" y1="268.0" x2="96.21666666666667" y2="269.2" stroke="#aaa" stroke-width="0.4" />
<line x1="104.93333333333334" y1="268.0" x2="104.93333333333334" y2="269.2" stroke="#aaa" stroke-width="0.4" />
<line x1="113.65" y1="268.0" x2="113.65" y2="269.2" stroke="#aaa" stroke-width="0.4" />
<line x1="122.36666666666667" y1="268.0" x2="122.36666666666667" y2="269.2" stroke="#aaa" stroke-width="0.4" />
<line x1="131.08333333333334" y1="268.0" x2="131.08333333333334" y2="269.2" stroke="#aaa" stroke-width="0.4" />
<line x1="87.5" y1="227.36" x2="88.7" y2="227.36" stroke="#aaa" stroke-width="0.4" />
<line x1="87.5" y1="237.82" x2="88.7" y2="237.82" stroke="#aaa" stroke-width="0.4" />
<line x1="87.5" y1="248.28" x2="88.7" y2="248.28" stroke="#aaa" stroke-width="0.4" />
<line x1="87.5" y1="258.74" x2="88.7" y2="258.74" stroke="#aaa" stroke-width="0.4" />
<rect x="95.5" y="269.8" width="5" height="1" fill="#666" opacity="0.6"/>
<rect x="85.9" y="257.2" width="1" height="5" fill="#666" opacity="0.5"/>
<polyline points="87.5,221.3 107.6,221.3 107.6,242.8 100.4,243.6 87.7,245.2" fill="none" stroke="#666" stroke-width="0.6"/>
<ellipse cx="98.6" cy="234.6" rx="11" ry="3.6" fill="#777" opacity="0.45" filter="url(#blr2)"/>
<g fill="#333" opacity="0.45"><circle cx="101.1" cy="236.8" r="0.4"/><circle cx="101.2" cy="234.1" r="0.4"/><circle cx="101.3" cy="232.4" r="0.4"/><circle cx="87.2" cy="234.6" r="0.4"/><circle cx="93.0" cy="236.1" r="0.4"/><circle cx="92.4" cy="238.0" r="0.4"/><circle cx="96.3" cy="231.5" r="0.4"/><circle cx="94.0" cy="235.6" r="0.4"/><circle cx="101.6" cy="234.9" r="0.4"/><circle cx="107.5" cy="236.1" r="0.4"/><circle cx="98.5" cy="235.8" r="0.4"/><circle cx="108.5" cy="236.6" r="0.4"/><circle cx="104.7" cy="232.1" r="0.4"/><circle cx="97.7" cy="236.1" r="0.4"/><circle cx="96.8" cy="236.9" r="0.4"/><circle cx="102.2" cy="236.5" r="0.4"/><circle cx="97.3" cy="240.1" r="0.4"/><circle cx="106.0" cy="234.0" r="0.4"/><circle cx="99.1" cy="240.2" r="0.4"/><circle cx="96.5" cy="236.4" r="0.4"/><circle cx="104.5" cy="234.5" r="0.4"/><circle cx="91.6" cy="234.9" r="0.4"/><circle cx="100.8" cy="237.0" r="0.4"/><circle cx="103.3" cy="234.6" r="0.4"/><circle cx="103.7" cy="235.7" r="0.4"/><circle cx="99.8" cy="234.6" r="0.4"/><circle cx="97.1" cy="236.0" r="0.4"/><circle cx="92.3" cy="233.1" r="0.4"/><circle cx="98.6" cy="231.3" r="0.4"/><circle cx="96.0" cy="230.1" r="0.4"/><circle cx="94.5" cy="235.8" r="0.4"/><circle cx="102.0" cy="234.4" r="0.4"/><circle cx="97.2" cy="231.4" r="0.4"/><circle cx="109.6" cy="235.6" r="0.4"/><circle cx="105.2" cy="232.6" r="0.4"/><circle cx="97.5" cy="230.5" r="0.4"/><circle cx="103.3" cy="236.6" r="0.4"/><circle cx="87.2" cy="234.4" r="0.4"/><circle cx="102.4" cy="230.6" r="0.4"/><circle cx="87.6" cy="232.2" r="0.4"/><circle cx="94.8" cy="231.4" r="0.4"/><circle cx="98.8" cy="235.0" r="0.4"/><circle cx="102.4" cy="236.0" r="0.4"/><circle cx="107.6" cy="237.1" r="0.4"/><circle cx="90.7" cy="233.4" r="0.4"/><circle cx="92.2" cy="232.1" r="0.4"/><circle cx="98.1" cy="234.5" r="0.4"/><circle cx="101.5" cy="231.0" r="0.4"/><circle cx="91.2" cy="234.4" r="0.4"/><circle cx="97.4" cy="233.8" r="0.4"/><circle cx="98.2" cy="232.8" r="0.4"/><circle cx="102.8" cy="235.3" r="0.4"/><circle cx="98.1" cy="233.0" r="0.4"/><circle cx="92.7" cy="234.6" r="0.4"/><circle cx="89.6" cy="234.9" r="0.4"/><circle cx="99.5" cy="231.5" r="0.4"/><circle cx="97.1" cy="233.8" r="0.4"/><circle cx="101.4" cy="235.8" r="0.4"/><circle cx="98.4" cy="232.6" r="0.4"/><circle cx="97.7" cy="234.4" r="0.4"/><circle cx="103.0" cy="235.1" r="0.4"/><circle cx="94.3" cy="231.5" r="0.4"/><circle cx="96.4" cy="232.9" r="0.4"/><circle cx="91.9" cy="234.2" r="0.4"/><circle cx="95.7" cy="234.7" r="0.4"/><circle cx="101.7" cy="233.6" r="0.4"/><circle cx="105.2" cy="234.8" r="0.4"/><circle cx="105.3" cy="229.3" r="0.4"/><circle cx="94.1" cy="235.0" r="0.4"/><circle cx="102.2" cy="239.6" r="0.4"/><circle cx="100.5" cy="237.3" r="0.4"/><circle cx="103.2" cy="236.6" r="0.4"/><circle cx="101.7" cy="234.2" r="0.4"/><circle cx="101.7" cy="232.1" r="0.4"/><circle cx="105.7" cy="232.3" r="0.4"/><circle cx="100.1" cy="239.2" r="0.4"/><circle cx="97.3" cy="234.5" r="0.4"/><circle cx="105.6" cy="234.6" r="0.4"/><circle cx="93.8" cy="235.1" r="0.4"/><circle cx="102.1" cy="236.1" r="0.4"/><circle cx="94.0" cy="238.4" r="0.4"/><circle cx="108.6" cy="234.5" r="0.4"/><circle cx="100.2" cy="233.6" r="0.4"/><circle cx="107.1" cy="232.9" r="0.4"/><circle cx="102.6" cy="233.4" r="0.4"/><circle cx="94.4" cy="236.1" r="0.4"/><circle cx="106.6" cy="234.5" r="0.4"/><circle cx="94.5" cy="236.3" r="0.4"/><circle cx="98.3" cy="235.2" r="0.4"/><circle cx="107.7" cy="237.0" r="0.4"/><circle cx="95.5" cy="239.5" r="0.4"/><circle cx="98.6" cy="236.2" r="0.4"/><circle cx="94.7" cy="234.4" r="0.4"/><circle cx="88.1" cy="238.4" r="0.4"/><circle cx="106.8" cy="231.8" r="0.4"/><circle cx="89.6" cy="230.9" r="0.4"/><circle cx="105.7" cy="233.5" r="0.4"/><circle cx="98.2" cy="233.8" r="0.4"/><circle cx="97.9" cy="232.1" r="0.4"/><circle cx="98.7" cy="231.3" r="0.4"/><circle cx="98.2" cy="235.2" r="0.4"/><circle cx="101.4" cy="234.0" r="0.4"/><circle cx="93.2" cy="234.9" r="0.4"/><circle cx="95.7" cy="237.9" r="0.4"/><circle cx="103.2" cy="234.2" r="0.4"/><circle cx="95.8" cy="233.0" r="0.4"/><circle cx="93.0" cy="233.7" r="0.4"/><circle cx="100.4" cy="235.6" r="0.4"/><circle cx="102.0" cy="239.1" r="0.4"/><circle cx="94.4" cy="234.5" r="0.4"/><circle cx="95.5" cy="234.9" r="0.4"/><circle cx="99.5" cy="235.4" r="0.4"/><circle cx="97.2" cy="235.3" r="0.4"/><circle cx="98.9" cy="236.2" r="0.4"/><circle cx="87.2" cy="232.6" r="0.4"/><circle cx="98.6" cy="232.2" r="0.4"/></g>
<path d="M96.0,243 C95.39999999999999,248 95.19999999999999,254 95.8,258.5 C97.1,260.5 100.1,260.5 101.39999999999999,258.5 C102.0,254 101.8,248 101.19999999999999,243 Z" fill="#444" opacity="0.9" filter="url(#blr2)"/>
<g fill="#111" opacity="0.7"><circle cx="96.7" cy="255.1" r="0.5"/><circle cx="97.4" cy="255.2" r="0.5"/><circle cx="99.9" cy="253.5" r="0.5"/><circle cx="99.5" cy="251.5" r="0.5"/><circle cx="96.1" cy="251.8" r="0.5"/><circle cx="99.4" cy="249.4" r="0.5"/><circle cx="98.4" cy="255.7" r="0.5"/><circle cx="97.0" cy="255.2" r="0.5"/><circle cx="102.0" cy="249.2" r="0.5"/><circle cx="98.9" cy="251.2" r="0.5"/><circle cx="101.4" cy="253.6" r="0.5"/><circle cx="100.2" cy="248.5" r="0.5"/><circle cx="98.6" cy="252.0" r="0.5"/><circle cx="95.4" cy="259.2" r="0.5"/><circle cx="100.2" cy="243.3" r="0.5"/><circle cx="99.9" cy="251.3" r="0.5"/><circle cx="99.4" cy="253.8" r="0.5"/><circle cx="95.9" cy="250.9" r="0.5"/><circle cx="101.3" cy="249.1" r="0.5"/><circle cx="96.8" cy="245.2" r="0.5"/><circle cx="96.4" cy="253.7" r="0.5"/><circle cx="101.6" cy="254.1" r="0.5"/><circle cx="97.7" cy="248.6" r="0.5"/><circle cx="99.6" cy="254.7" r="0.5"/><circle cx="96.8" cy="246.2" r="0.5"/><circle cx="99.1" cy="253.2" r="0.5"/><circle cx="96.2" cy="251.0" r="0.5"/><circle cx="97.6" cy="254.3" r="0.5"/><circle cx="98.4" cy="251.6" r="0.5"/><circle cx="98.0" cy="257.3" r="0.5"/><circle cx="101.1" cy="250.2" r="0.5"/><circle cx="100.1" cy="248.2" r="0.5"/><circle cx="98.7" cy="255.7" r="0.5"/><circle cx="101.3" cy="250.1" r="0.5"/><circle cx="98.5" cy="253.0" r="0.5"/><circle cx="95.9" cy="252.1" r="0.5"/><circle cx="97.4" cy="253.9" r="0.5"/><circle cx="96.6" cy="242.1" r="0.5"/><circle cx="98.7" cy="253.3" r="0.5"/><circle cx="97.6" cy="256.4" r="0.5"/><circle cx="98.1" cy="249.0" r="0.5"/><circle cx="99.5" cy="244.2" r="0.5"/><circle cx="97.4" cy="251.9" r="0.5"/><circle cx="100.1" cy="251.2" r="0.5"/><circle cx="99.2" cy="248.7" r="0.5"/><circle cx="99.1" cy="260.3" r="0.5"/><circle cx="97.4" cy="252.1" r="0.5"/><circle cx="98.9" cy="257.1" r="0.5"/><circle cx="99.7" cy="256.0" r="0.5"/><circle cx="99.0" cy="253.3" r="0.5"/><circle cx="100.3" cy="253.8" r="0.5"/><circle cx="101.6" cy="245.8" r="0.5"/><circle cx="100.1" cy="250.1" r="0.5"/><circle cx="98.6" cy="250.7" r="0.5"/><circle cx="97.7" cy="247.8" r="0.5"/><circle cx="97.5" cy="255.2" r="0.5"/><circle cx="98.7" cy="252.3" r="0.5"/><circle cx="98.3" cy="256.6" r="0.5"/><circle cx="99.5" cy="251.3" r="0.5"/><circle cx="99.8" cy="251.2" r="0.5"/><circle cx="96.5" cy="259.3" r="0.5"/><circle cx="99.4" cy="247.2" r="0.5"/><circle cx="100.5" cy="253.7" r="0.5"/><circle cx="95.8" cy="260.0" r="0.5"/></g>
<ellipse cx="98.6" cy="255.8" rx="2.8" ry="3.4" fill="#111" filter="url(#blr2)"/>
<defs><radialGradient id="g2"><stop offset="0" stop-color="#fdfdfd"/><stop offset="0.35" stop-color="#e8e8e8"/><stop offset="0.7" stop-color="#a8a8a8"/><stop offset="1" stop-color="#707070"/></radialGradient></defs>
<path d="M98.6,227 C104.53999999999999,227 103.44,239.2 98.6,243.2 C93.75999999999999,239.2 92.66,227 98.6,227 Z" fill="url(#g2)" stroke="#000" stroke-width="1.4"/>
<path d="M98.6,229.2 C102.24499999999999,229.2 101.57,236.8 98.6,240.8 C95.63,236.8 94.955,229.2 98.6,229.2 Z" fill="none" stroke="#555" stroke-width="0.5"/>
<text x="106.7" y="226.2" font-size="7.0" text-anchor="start" fill="#f06a6a" >TCRβ<tspan font-size="4.4" dy="-2.6">+</tspan><tspan dy="2.6"> IVS</tspan><tspan font-size="4.4" dy="-2.6">-</tspan></text>
<line x1="108" y1="235.3" x2="145" y2="235.3" stroke="#e8101c" stroke-width="2.2" />
<polygon points="143.5,232.0 143.5,238.60000000000002 150,235.3" fill="#e8101c"/>
<line x1="81.7" y1="220.8" x2="81.7" y2="250" stroke="#000" stroke-width="2" />
<polygon points="78.10000000000001,222.8 85.3,222.8 81.7,215.8" fill="#000"/>
<text transform="translate(84.3,258.5) rotate(-90)" font-size="7.3" text-anchor="middle">TCRβ</text>
<text x="88.5" y="279.8" font-size="7.0">CD45-IVS</text>
<line x1="121.5" y1="277" x2="136" y2="277" stroke="#000" stroke-width="2" />
<polygon points="134,273.4 134,280.6 141,277" fill="#000"/>
<rect x="156.6" y="216.5" width="53.400000000000006" height="53.89999999999998" fill="#fff" stroke="#c8c8c8" stroke-width="0.7"/>
<line x1="165.5" y1="269.2" x2="165.5" y2="270.4" stroke="#aaa" stroke-width="0.4" />
<line x1="174.4" y1="269.2" x2="174.4" y2="270.4" stroke="#aaa" stroke-width="0.4" />
<line x1="183.3" y1="269.2" x2="183.3" y2="270.4" stroke="#aaa" stroke-width="0.4" />
<line x1="192.2" y1="269.2" x2="192.2" y2="270.4" stroke="#aaa" stroke-width="0.4" />
<line x1="201.1" y1="269.2" x2="201.1" y2="270.4" stroke="#aaa" stroke-width="0.4" />
<line x1="156.6" y1="227.28" x2="157.79999999999998" y2="227.28" stroke="#aaa" stroke-width="0.4" />
<line x1="156.6" y1="238.06" x2="157.79999999999998" y2="238.06" stroke="#aaa" stroke-width="0.4" />
<line x1="156.6" y1="248.83999999999997" x2="157.79999999999998" y2="248.83999999999997" stroke="#aaa" stroke-width="0.4" />
<line x1="156.6" y1="259.62" x2="157.79999999999998" y2="259.62" stroke="#aaa" stroke-width="0.4" />
<rect x="164.6" y="271.0" width="5" height="1" fill="#666" opacity="0.6"/>
<rect x="155.0" y="258.4" width="1" height="5" fill="#666" opacity="0.5"/>
<polyline points="156.6,218.8 176.5,218.8 180.8,227.5 174.9,238.2 156.6,238.2" fill="none" stroke="#555" stroke-width="0.6"/>
<path d="M185.2,268.9 L185.2,249.5 Q185.5,244.2 189.5,244.2 L202.9,244.2 L205.6,248.5 L205.6,268.9" fill="none" stroke="#555" stroke-width="0.6"/>
<g fill="#333" opacity="0.3"><circle cx="172.5" cy="255.1" r="0.45"/><circle cx="172.3" cy="246.8" r="0.45"/><circle cx="169.8" cy="255.8" r="0.45"/><circle cx="172.0" cy="245.7" r="0.45"/><circle cx="172.5" cy="248.6" r="0.45"/><circle cx="172.9" cy="245.0" r="0.45"/><circle cx="171.4" cy="253.4" r="0.45"/><circle cx="173.9" cy="245.1" r="0.45"/><circle cx="171.8" cy="260.7" r="0.45"/><circle cx="171.5" cy="253.9" r="0.45"/><circle cx="174.3" cy="248.3" r="0.45"/><circle cx="173.7" cy="242.3" r="0.45"/><circle cx="172.3" cy="247.4" r="0.45"/><circle cx="172.2" cy="257.0" r="0.45"/><circle cx="175.3" cy="242.7" r="0.45"/><circle cx="171.2" cy="252.0" r="0.45"/><circle cx="170.5" cy="252.0" r="0.45"/><circle cx="172.8" cy="245.8" r="0.45"/><circle cx="172.7" cy="235.6" r="0.45"/><circle cx="173.1" cy="235.6" r="0.45"/><circle cx="171.0" cy="243.6" r="0.45"/><circle cx="171.4" cy="254.9" r="0.45"/><circle cx="172.1" cy="244.8" r="0.45"/><circle cx="172.8" cy="260.7" r="0.45"/><circle cx="172.0" cy="250.9" r="0.45"/><circle cx="173.7" cy="250.1" r="0.45"/><circle cx="175.1" cy="232.1" r="0.45"/><circle cx="171.9" cy="251.3" r="0.45"/><circle cx="173.4" cy="253.4" r="0.45"/><circle cx="171.6" cy="239.6" r="0.45"/><circle cx="172.1" cy="256.3" r="0.45"/><circle cx="170.5" cy="239.8" r="0.45"/><circle cx="172.0" cy="232.5" r="0.45"/><circle cx="171.6" cy="244.5" r="0.45"/><circle cx="172.6" cy="242.4" r="0.45"/><circle cx="170.8" cy="244.8" r="0.45"/><circle cx="171.9" cy="242.7" r="0.45"/><circle cx="172.0" cy="254.0" r="0.45"/><circle cx="173.7" cy="261.6" r="0.45"/><circle cx="170.9" cy="244.6" r="0.45"/><circle cx="171.0" cy="247.7" r="0.45"/><circle cx="172.7" cy="237.1" r="0.45"/><circle cx="172.6" cy="247.8" r="0.45"/><circle cx="169.4" cy="250.3" r="0.45"/><circle cx="173.7" cy="233.1" r="0.45"/><circle cx="173.1" cy="249.7" r="0.45"/><circle cx="172.7" cy="251.5" r="0.45"/><circle cx="173.8" cy="246.2" r="0.45"/><circle cx="173.2" cy="244.7" r="0.45"/><circle cx="173.0" cy="241.5" r="0.45"/><circle cx="171.8" cy="261.8" r="0.45"/><circle cx="172.6" cy="246.7" r="0.45"/><circle cx="170.4" cy="241.7" r="0.45"/><circle cx="172.3" cy="255.5" r="0.45"/><circle cx="172.6" cy="252.2" r="0.45"/><circle cx="171.9" cy="258.8" r="0.45"/><circle cx="171.5" cy="243.6" r="0.45"/><circle cx="173.2" cy="248.5" r="0.45"/><circle cx="171.6" cy="243.4" r="0.45"/><circle cx="171.6" cy="253.0" r="0.45"/><circle cx="172.5" cy="238.3" r="0.45"/><circle cx="172.6" cy="249.4" r="0.45"/><circle cx="170.6" cy="254.2" r="0.45"/><circle cx="171.6" cy="245.3" r="0.45"/><circle cx="173.1" cy="258.6" r="0.45"/><circle cx="171.0" cy="251.5" r="0.45"/><circle cx="171.3" cy="257.6" r="0.45"/><circle cx="171.1" cy="254.5" r="0.45"/><circle cx="171.4" cy="252.0" r="0.45"/><circle cx="171.9" cy="242.7" r="0.45"/><circle cx="175.0" cy="248.6" r="0.45"/><circle cx="169.7" cy="254.8" r="0.45"/><circle cx="169.6" cy="257.2" r="0.45"/><circle cx="171.2" cy="249.2" r="0.45"/><circle cx="173.8" cy="248.9" r="0.45"/><circle cx="170.1" cy="234.4" r="0.45"/><circle cx="173.7" cy="253.9" r="0.45"/><circle cx="170.9" cy="254.9" r="0.45"/><circle cx="172.7" cy="253.2" r="0.45"/><circle cx="168.8" cy="245.6" r="0.45"/><circle cx="173.3" cy="253.9" r="0.45"/><circle cx="172.2" cy="251.9" r="0.45"/><circle cx="175.6" cy="240.4" r="0.45"/><circle cx="171.5" cy="248.3" r="0.45"/></g>
<g fill="#333" opacity="0.45"><circle cx="197.2" cy="243.4" r="0.35"/><circle cx="197.9" cy="242.2" r="0.35"/><circle cx="195.7" cy="243.2" r="0.35"/><circle cx="195.4" cy="242.6" r="0.35"/><circle cx="191.0" cy="248.8" r="0.35"/><circle cx="195.8" cy="243.0" r="0.35"/><circle cx="195.5" cy="248.5" r="0.35"/><circle cx="192.6" cy="244.6" r="0.35"/><circle cx="196.3" cy="246.8" r="0.35"/><circle cx="194.2" cy="237.6" r="0.35"/><circle cx="198.1" cy="246.1" r="0.35"/><circle cx="195.0" cy="244.0" r="0.35"/><circle cx="195.7" cy="243.5" r="0.35"/><circle cx="192.4" cy="242.4" r="0.35"/><circle cx="193.5" cy="242.9" r="0.35"/><circle cx="192.1" cy="247.2" r="0.35"/><circle cx="191.7" cy="247.3" r="0.35"/><circle cx="192.5" cy="246.2" r="0.35"/><circle cx="198.4" cy="245.7" r="0.35"/><circle cx="193.2" cy="245.2" r="0.35"/><circle cx="195.4" cy="238.9" r="0.35"/><circle cx="193.5" cy="245.6" r="0.35"/><circle cx="193.8" cy="245.3" r="0.35"/><circle cx="196.8" cy="247.7" r="0.35"/><circle cx="197.3" cy="247.1" r="0.35"/></g>
<defs><radialGradient id="g3"><stop offset="0" stop-color="#fff"/><stop offset="0.35" stop-color="#e4e4e4"/><stop offset="0.75" stop-color="#9a9a9a"/><stop offset="1" stop-color="#555"/></radialGradient></defs>
<path d="M162.3,228.2 C165,226.2 169,224.2 173,224.1 C176.5,224 178.8,225.5 178.8,228 C178.8,230.6 176.5,232 173,231.9 C169,231.8 165,230.2 162.3,228.2 Z" fill="url(#g3)" stroke="#000" stroke-width="1.2"/>
<path d="M166.5,228.1 C168.5,226.9 170.5,226.2 173,226.2 C175,226.2 176.3,227 176.3,228.1 C176.3,229.3 175,230 173,230 C170.5,230 168.5,229.3 166.5,228.1 Z" fill="none" stroke="#333" stroke-width="0.5"/>
<ellipse cx="172.6" cy="228.1" rx="1.6" ry="1.0" fill="#fff"/>
<ellipse cx="179.3" cy="227.2" rx="1.2" ry="2.2" fill="#222"/>
<g stroke="#222" stroke-width="0.4" fill="none" opacity="0.75"><line x1="192.6" y1="249" x2="189.0" y2="243.2"/><line x1="193.2" y1="249" x2="190.5" y2="241.9"/><line x1="193.8" y1="249" x2="192.0" y2="240.6"/><line x1="194.4" y1="249" x2="193.5" y2="239.3"/><line x1="195.0" y1="249" x2="195.0" y2="238.0"/><line x1="195.6" y1="249" x2="196.5" y2="239.3"/><line x1="196.2" y1="249" x2="198.0" y2="240.6"/><line x1="196.8" y1="249" x2="199.5" y2="241.9"/><line x1="197.4" y1="249" x2="201.0" y2="243.2"/></g>
<defs><radialGradient id="g4"><stop offset="0" stop-color="#fff"/><stop offset="0.2" stop-color="#ddd"/><stop offset="0.6" stop-color="#aaa"/><stop offset="1" stop-color="#333"/></radialGradient></defs>
<path d="M195,248 C199,248 200.6,254 200.4,258 C200.2,263 198,266 195,266 C192,266 189.8,263 189.6,258 C189.4,254 191,248 195,248 Z" fill="url(#g4)" stroke="#000" stroke-width="1.4"/>
<ellipse cx="195" cy="257.5" rx="3" ry="5.5" fill="none" stroke="#444" stroke-width="0.5"/>
<ellipse cx="195" cy="258" rx="1.6" ry="3" fill="none" stroke="#666" stroke-width="0.4"/>
<text x="162.8" y="213.8" font-size="7.0" text-anchor="start" fill="#f06a6a" >CD8<tspan font-size="4.4" dy="-2.6">+</tspan></text>
<text x="165.8" y="266" font-size="7.0" text-anchor="start" fill="#f06a6a" >CD4<tspan font-size="4.4" dy="-2.6">+</tspan></text>
<line x1="180.3" y1="221.2" x2="207.8" y2="221.2" stroke="#e8101c" stroke-width="2.2" />
<polygon points="206.3,217.89999999999998 206.3,224.5 212.8,221.2" fill="#e8101c"/>
<line x1="150" y1="220.8" x2="150" y2="251" stroke="#000" stroke-width="2" />
<polygon points="146.4,222.8 153.6,222.8 150,215.8" fill="#000"/>
<text transform="translate(152.6,261.5) rotate(-90)" font-size="7.3" text-anchor="middle">CD8</text>
<text x="158.5" y="279.8" font-size="7.3">CD4</text>
<line x1="173" y1="277" x2="207.5" y2="277" stroke="#000" stroke-width="2" />
<polygon points="205.5,273.4 205.5,280.6 212.5,277" fill="#000"/>
<rect x="226.3" y="216.3" width="53.19999999999999" height="53.5" fill="#fff" stroke="#c8c8c8" stroke-width="0.7"/>
<line x1="235.16666666666669" y1="268.6" x2="235.16666666666669" y2="269.8" stroke="#aaa" stroke-width="0.4" />
<line x1="244.03333333333333" y1="268.6" x2="244.03333333333333" y2="269.8" stroke="#aaa" stroke-width="0.4" />
<line x1="252.9" y1="268.6" x2="252.9" y2="269.8" stroke="#aaa" stroke-width="0.4" />
<line x1="261.76666666666665" y1="268.6" x2="261.76666666666665" y2="269.8" stroke="#aaa" stroke-width="0.4" />
<line x1="270.6333333333333" y1="268.6" x2="270.6333333333333" y2="269.8" stroke="#aaa" stroke-width="0.4" />
<line x1="226.3" y1="227.0" x2="227.5" y2="227.0" stroke="#aaa" stroke-width="0.4" />
<line x1="226.3" y1="237.70000000000002" x2="227.5" y2="237.70000000000002" stroke="#aaa" stroke-width="0.4" />
<line x1="226.3" y1="248.4" x2="227.5" y2="248.4" stroke="#aaa" stroke-width="0.4" />
<line x1="226.3" y1="259.1" x2="227.5" y2="259.1" stroke="#aaa" stroke-width="0.4" />
<rect x="234.3" y="270.40000000000003" width="5" height="1" fill="#666" opacity="0.6"/>
<rect x="224.70000000000002" y="257.8" width="1" height="5" fill="#666" opacity="0.5"/>
<g fill="#333" opacity="0.35"><circle cx="241.6" cy="233.0" r="0.35"/><circle cx="241.6" cy="232.4" r="0.35"/><circle cx="241.3" cy="233.0" r="0.35"/><circle cx="238.1" cy="233.0" r="0.35"/><circle cx="245.6" cy="232.7" r="0.35"/><circle cx="245.6" cy="232.4" r="0.35"/><circle cx="247.3" cy="233.7" r="0.35"/><circle cx="243.1" cy="231.8" r="0.35"/><circle cx="246.2" cy="232.0" r="0.35"/><circle cx="244.1" cy="232.0" r="0.35"/><circle cx="244.0" cy="234.5" r="0.35"/><circle cx="238.6" cy="232.9" r="0.35"/><circle cx="246.1" cy="233.3" r="0.35"/><circle cx="249.2" cy="237.0" r="0.35"/><circle cx="247.3" cy="236.1" r="0.35"/><circle cx="247.6" cy="234.6" r="0.35"/><circle cx="239.9" cy="231.6" r="0.35"/><circle cx="247.4" cy="231.2" r="0.35"/><circle cx="239.6" cy="231.5" r="0.35"/><circle cx="244.2" cy="231.5" r="0.35"/><circle cx="249.6" cy="232.8" r="0.35"/><circle cx="237.6" cy="235.6" r="0.35"/><circle cx="240.1" cy="233.4" r="0.35"/><circle cx="242.9" cy="232.4" r="0.35"/><circle cx="244.6" cy="231.6" r="0.35"/><circle cx="236.7" cy="231.5" r="0.35"/><circle cx="242.9" cy="233.1" r="0.35"/><circle cx="245.8" cy="233.2" r="0.35"/><circle cx="239.0" cy="231.6" r="0.35"/><circle cx="245.4" cy="234.1" r="0.35"/><circle cx="242.4" cy="232.7" r="0.35"/><circle cx="247.7" cy="233.0" r="0.35"/><circle cx="246.7" cy="234.2" r="0.35"/><circle cx="244.1" cy="235.6" r="0.35"/><circle cx="240.1" cy="232.3" r="0.35"/><circle cx="239.0" cy="231.4" r="0.35"/><circle cx="243.1" cy="234.1" r="0.35"/><circle cx="248.9" cy="234.6" r="0.35"/><circle cx="249.0" cy="230.5" r="0.35"/><circle cx="239.8" cy="233.9" r="0.35"/><circle cx="238.7" cy="232.3" r="0.35"/><circle cx="239.7" cy="231.3" r="0.35"/><circle cx="243.1" cy="237.3" r="0.35"/><circle cx="248.9" cy="233.7" r="0.35"/><circle cx="239.9" cy="233.8" r="0.35"/></g>
<path d="M227.3,227.8 C232,226.5 236,224.8 242,224.5 C252,224 262,223.5 268,223 L272,222.9 L271.5,229.5 C266,230.5 258,231 250,231.2 C242,231.4 236,230.6 232,229.5 C230,229 228.5,228.6 227.3,227.8 Z" fill="#8a8a8a" stroke="#111" stroke-width="0.9"/>
<path d="M235,227.6 C242,226.6 252,226.4 268,226.2 L268,228.2 C252,228.6 242,228.7 235,227.6 Z" fill="#f4f4f4"/>
<path d="M263,230.5 C266,229.8 268.5,231 268.7,234 C268.9,236.5 267.8,238.2 266,238.2 C264,238.2 263.2,236 263.3,233.5 Z" fill="#666" opacity="0.85"/>
<rect x="260.2" y="217.3" width="14" height="24" rx="6" fill="none" stroke="#e8303a" stroke-width="0.8"/>
<text x="233.5" y="266" font-size="7.0" text-anchor="start" fill="#e8101c" font-weight="bold" >CD8<tspan font-size="4.4" dy="-2.6">+</tspan><tspan dy="2.6"> CD44</tspan><tspan font-size="4.4" dy="-2.6">high</tspan></text>
<line x1="218.5" y1="220.8" x2="218.5" y2="252" stroke="#000" stroke-width="2" />
<polygon points="214.9,222.8 222.1,222.8 218.5,215.8" fill="#000"/>
<text transform="translate(221.1,261.5) rotate(-90)" font-size="7.3" text-anchor="middle">CD8</text>
<text x="228" y="279.8" font-size="7.3">CD44</text>
<line x1="246.8" y1="277" x2="275.5" y2="277" stroke="#000" stroke-width="2" />
<polygon points="273.5,273.4 273.5,280.6 280.5,277" fill="#000"/>
<text x="3.0" y="292.2" font-size="12.3" text-anchor="start" fill="#000" font-weight="bold" >E</text>
<text x="15.6" y="297.8" font-size="8.8" text-anchor="start" fill="#000" font-weight="bold" >Tumor</text>
<rect x="18.3" y="308.9" width="51.900000000000006" height="51.5" fill="#fff" stroke="#c8c8c8" stroke-width="0.7"/>
<line x1="26.950000000000003" y1="359.2" x2="26.950000000000003" y2="360.4" stroke="#aaa" stroke-width="0.4" />
<line x1="35.6" y1="359.2" x2="35.6" y2="360.4" stroke="#aaa" stroke-width="0.4" />
<line x1="44.25" y1="359.2" x2="44.25" y2="360.4" stroke="#aaa" stroke-width="0.4" />
<line x1="52.900000000000006" y1="359.2" x2="52.900000000000006" y2="360.4" stroke="#aaa" stroke-width="0.4" />
<line x1="61.55" y1="359.2" x2="61.55" y2="360.4" stroke="#aaa" stroke-width="0.4" />
<line x1="18.3" y1="319.2" x2="19.5" y2="319.2" stroke="#aaa" stroke-width="0.4" />
<line x1="18.3" y1="329.5" x2="19.5" y2="329.5" stroke="#aaa" stroke-width="0.4" />
<line x1="18.3" y1="339.79999999999995" x2="19.5" y2="339.79999999999995" stroke="#aaa" stroke-width="0.4" />
<line x1="18.3" y1="350.09999999999997" x2="19.5" y2="350.09999999999997" stroke="#aaa" stroke-width="0.4" />
<rect x="26.3" y="361.0" width="5" height="1" fill="#666" opacity="0.6"/>
<rect x="16.7" y="348.4" width="1" height="5" fill="#666" opacity="0.5"/>
<polyline points="18.3,313.9 37.3,313.9 37.3,350.7 31.7,357.4 18.3,357.4" fill="none" stroke="#666" stroke-width="0.6"/>
<g fill="#333" opacity="0.35"><circle cx="59.6" cy="346.2" r="0.4"/><circle cx="56.4" cy="341.0" r="0.4"/><circle cx="49.6" cy="338.0" r="0.4"/><circle cx="48.8" cy="353.0" r="0.4"/><circle cx="47.2" cy="334.3" r="0.4"/><circle cx="42.2" cy="347.9" r="0.4"/><circle cx="63.0" cy="346.3" r="0.4"/><circle cx="47.9" cy="324.5" r="0.4"/><circle cx="62.3" cy="340.8" r="0.4"/><circle cx="44.7" cy="328.8" r="0.4"/><circle cx="44.5" cy="329.0" r="0.4"/><circle cx="45.6" cy="344.7" r="0.4"/><circle cx="45.3" cy="342.8" r="0.4"/><circle cx="37.3" cy="354.3" r="0.4"/><circle cx="39.1" cy="321.8" r="0.4"/><circle cx="43.3" cy="332.4" r="0.4"/><circle cx="47.6" cy="328.2" r="0.4"/><circle cx="43.8" cy="354.3" r="0.4"/><circle cx="51.1" cy="338.5" r="0.4"/><circle cx="46.1" cy="338.8" r="0.4"/><circle cx="44.6" cy="347.3" r="0.4"/><circle cx="44.8" cy="331.1" r="0.4"/><circle cx="50.9" cy="333.9" r="0.4"/><circle cx="39.3" cy="321.3" r="0.4"/><circle cx="38.0" cy="336.3" r="0.4"/><circle cx="48.0" cy="353.6" r="0.4"/><circle cx="62.5" cy="350.3" r="0.4"/><circle cx="46.3" cy="341.8" r="0.4"/><circle cx="61.2" cy="354.3" r="0.4"/><circle cx="42.2" cy="344.6" r="0.4"/><circle cx="47.6" cy="340.5" r="0.4"/><circle cx="40.5" cy="326.7" r="0.4"/><circle cx="40.2" cy="324.6" r="0.4"/><circle cx="56.0" cy="345.4" r="0.4"/><circle cx="53.0" cy="320.9" r="0.4"/><circle cx="61.6" cy="348.1" r="0.4"/><circle cx="63.6" cy="327.7" r="0.4"/><circle cx="49.8" cy="344.2" r="0.4"/><circle cx="46.8" cy="341.7" r="0.4"/><circle cx="54.5" cy="325.1" r="0.4"/><circle cx="40.0" cy="333.9" r="0.4"/><circle cx="48.3" cy="342.7" r="0.4"/><circle cx="45.3" cy="333.2" r="0.4"/><circle cx="41.0" cy="349.5" r="0.4"/><circle cx="51.9" cy="341.0" r="0.4"/><circle cx="42.1" cy="355.5" r="0.4"/><circle cx="39.7" cy="346.5" r="0.4"/><circle cx="55.4" cy="337.3" r="0.4"/><circle cx="52.4" cy="328.8" r="0.4"/><circle cx="54.1" cy="342.0" r="0.4"/><circle cx="38.9" cy="338.4" r="0.4"/><circle cx="47.5" cy="336.7" r="0.4"/><circle cx="47.3" cy="334.5" r="0.4"/><circle cx="51.0" cy="340.1" r="0.4"/><circle cx="55.5" cy="340.3" r="0.4"/><circle cx="49.2" cy="350.7" r="0.4"/><circle cx="43.7" cy="346.8" r="0.4"/><circle cx="41.7" cy="328.8" r="0.4"/><circle cx="54.9" cy="349.1" r="0.4"/><circle cx="58.8" cy="348.6" r="0.4"/><circle cx="39.8" cy="323.4" r="0.4"/><circle cx="39.1" cy="333.2" r="0.4"/><circle cx="37.7" cy="345.8" r="0.4"/><circle cx="48.0" cy="337.3" r="0.4"/><circle cx="46.6" cy="338.5" r="0.4"/><circle cx="46.9" cy="347.5" r="0.4"/><circle cx="53.6" cy="333.1" r="0.4"/><circle cx="46.0" cy="351.1" r="0.4"/><circle cx="45.2" cy="325.6" r="0.4"/><circle cx="40.4" cy="347.2" r="0.4"/><circle cx="54.7" cy="355.9" r="0.4"/><circle cx="37.2" cy="326.0" r="0.4"/><circle cx="49.7" cy="349.4" r="0.4"/><circle cx="46.7" cy="327.0" r="0.4"/><circle cx="52.0" cy="347.9" r="0.4"/><circle cx="50.0" cy="335.1" r="0.4"/><circle cx="47.7" cy="347.9" r="0.4"/><circle cx="40.0" cy="321.6" r="0.4"/><circle cx="48.0" cy="344.8" r="0.4"/><circle cx="45.1" cy="348.9" r="0.4"/><circle cx="39.7" cy="339.2" r="0.4"/><circle cx="42.3" cy="345.7" r="0.4"/><circle cx="59.4" cy="337.5" r="0.4"/><circle cx="63.5" cy="355.3" r="0.4"/><circle cx="52.1" cy="345.9" r="0.4"/><circle cx="60.9" cy="338.2" r="0.4"/><circle cx="44.0" cy="329.4" r="0.4"/><circle cx="49.3" cy="353.4" r="0.4"/><circle cx="49.8" cy="344.2" r="0.4"/><circle cx="43.2" cy="341.7" r="0.4"/><circle cx="41.3" cy="329.0" r="0.4"/><circle cx="38.2" cy="331.8" r="0.4"/><circle cx="52.7" cy="350.6" r="0.4"/><circle cx="53.0" cy="334.2" r="0.4"/><circle cx="39.3" cy="343.4" r="0.4"/><circle cx="41.8" cy="319.7" r="0.4"/><circle cx="47.1" cy="324.7" r="0.4"/><circle cx="53.1" cy="327.9" r="0.4"/><circle cx="38.8" cy="331.5" r="0.4"/><circle cx="40.1" cy="353.0" r="0.4"/><circle cx="52.7" cy="346.0" r="0.4"/><circle cx="47.9" cy="324.5" r="0.4"/><circle cx="40.3" cy="334.5" r="0.4"/><circle cx="38.3" cy="332.9" r="0.4"/><circle cx="50.4" cy="353.3" r="0.4"/><circle cx="46.6" cy="330.2" r="0.4"/><circle cx="55.9" cy="343.0" r="0.4"/><circle cx="53.3" cy="354.8" r="0.4"/><circle cx="55.1" cy="335.6" r="0.4"/><circle cx="54.5" cy="347.8" r="0.4"/><circle cx="50.2" cy="329.3" r="0.4"/><circle cx="48.4" cy="354.7" r="0.4"/><circle cx="43.1" cy="342.7" r="0.4"/><circle cx="43.6" cy="350.0" r="0.4"/><circle cx="54.3" cy="340.9" r="0.4"/><circle cx="40.8" cy="346.3" r="0.4"/><circle cx="47.4" cy="356.2" r="0.4"/><circle cx="55.2" cy="335.5" r="0.4"/><circle cx="48.1" cy="357.6" r="0.4"/><circle cx="40.2" cy="344.3" r="0.4"/><circle cx="55.7" cy="352.6" r="0.4"/><circle cx="49.7" cy="326.8" r="0.4"/><circle cx="37.2" cy="351.4" r="0.4"/><circle cx="51.9" cy="323.3" r="0.4"/><circle cx="37.6" cy="341.7" r="0.4"/><circle cx="40.6" cy="338.5" r="0.4"/><circle cx="49.2" cy="331.9" r="0.4"/><circle cx="49.2" cy="333.6" r="0.4"/><circle cx="40.1" cy="345.4" r="0.4"/><circle cx="39.8" cy="342.9" r="0.4"/><circle cx="59.4" cy="340.3" r="0.4"/><circle cx="43.7" cy="347.4" r="0.4"/><circle cx="41.7" cy="350.8" r="0.4"/><circle cx="40.4" cy="332.0" r="0.4"/><circle cx="60.9" cy="331.5" r="0.4"/><circle cx="60.8" cy="346.6" r="0.4"/><circle cx="58.1" cy="330.2" r="0.4"/><circle cx="55.8" cy="354.6" r="0.4"/><circle cx="44.0" cy="338.7" r="0.4"/><circle cx="67.1" cy="341.8" r="0.4"/><circle cx="41.2" cy="333.7" r="0.4"/><circle cx="49.0" cy="343.3" r="0.4"/><circle cx="46.6" cy="357.2" r="0.4"/><circle cx="42.0" cy="344.7" r="0.4"/><circle cx="58.1" cy="330.0" r="0.4"/><circle cx="54.3" cy="358.3" r="0.4"/><circle cx="49.1" cy="321.4" r="0.4"/><circle cx="49.5" cy="354.5" r="0.4"/><circle cx="38.4" cy="337.3" r="0.4"/><circle cx="45.5" cy="345.5" r="0.4"/><circle cx="41.9" cy="340.2" r="0.4"/><circle cx="40.1" cy="341.1" r="0.4"/><circle cx="62.2" cy="340.8" r="0.4"/><circle cx="38.4" cy="347.4" r="0.4"/><circle cx="48.5" cy="339.0" r="0.4"/><circle cx="57.1" cy="342.4" r="0.4"/><circle cx="46.9" cy="338.4" r="0.4"/><circle cx="42.5" cy="326.3" r="0.4"/><circle cx="38.2" cy="348.5" r="0.4"/><circle cx="47.3" cy="350.4" r="0.4"/><circle cx="48.5" cy="332.6" r="0.4"/><circle cx="49.3" cy="331.0" r="0.4"/><circle cx="37.8" cy="339.8" r="0.4"/><circle cx="41.2" cy="347.6" r="0.4"/><circle cx="41.4" cy="352.7" r="0.4"/><circle cx="59.0" cy="344.0" r="0.4"/><circle cx="53.5" cy="331.7" r="0.4"/><circle cx="52.2" cy="342.6" r="0.4"/><circle cx="50.8" cy="340.3" r="0.4"/></g>
<g fill="#222" opacity="0.5"><circle cx="38.0" cy="325.5" r="0.4"/><circle cx="32.6" cy="319.7" r="0.4"/><circle cx="37.9" cy="324.8" r="0.4"/><circle cx="32.4" cy="323.4" r="0.4"/><circle cx="33.9" cy="321.1" r="0.4"/><circle cx="34.3" cy="325.6" r="0.4"/><circle cx="33.6" cy="323.3" r="0.4"/><circle cx="35.1" cy="326.8" r="0.4"/><circle cx="35.3" cy="331.7" r="0.4"/><circle cx="33.7" cy="324.4" r="0.4"/><circle cx="36.9" cy="319.0" r="0.4"/><circle cx="33.2" cy="327.9" r="0.4"/><circle cx="34.2" cy="336.9" r="0.4"/><circle cx="33.9" cy="336.8" r="0.4"/><circle cx="38.0" cy="333.0" r="0.4"/><circle cx="36.2" cy="330.9" r="0.4"/><circle cx="36.2" cy="321.5" r="0.4"/><circle cx="37.4" cy="326.3" r="0.4"/><circle cx="37.5" cy="330.6" r="0.4"/><circle cx="37.8" cy="329.0" r="0.4"/><circle cx="34.0" cy="331.7" r="0.4"/><circle cx="33.9" cy="326.2" r="0.4"/><circle cx="35.3" cy="331.0" r="0.4"/><circle cx="38.8" cy="330.3" r="0.4"/><circle cx="39.7" cy="342.6" r="0.4"/><circle cx="39.3" cy="337.4" r="0.4"/><circle cx="35.3" cy="331.0" r="0.4"/><circle cx="34.6" cy="324.9" r="0.4"/><circle cx="34.8" cy="325.5" r="0.4"/><circle cx="39.1" cy="333.7" r="0.4"/><circle cx="34.9" cy="327.1" r="0.4"/><circle cx="32.3" cy="322.0" r="0.4"/><circle cx="34.9" cy="329.0" r="0.4"/><circle cx="38.6" cy="330.9" r="0.4"/><circle cx="35.4" cy="327.4" r="0.4"/><circle cx="33.5" cy="340.5" r="0.4"/><circle cx="37.5" cy="342.0" r="0.4"/><circle cx="34.1" cy="330.2" r="0.4"/><circle cx="32.8" cy="336.8" r="0.4"/><circle cx="31.5" cy="334.0" r="0.4"/><circle cx="37.7" cy="339.9" r="0.4"/><circle cx="32.7" cy="337.6" r="0.4"/><circle cx="33.2" cy="324.7" r="0.4"/><circle cx="31.7" cy="338.1" r="0.4"/><circle cx="39.1" cy="325.8" r="0.4"/><circle cx="33.1" cy="327.6" r="0.4"/><circle cx="33.3" cy="338.3" r="0.4"/><circle cx="39.7" cy="328.1" r="0.4"/><circle cx="33.3" cy="326.4" r="0.4"/><circle cx="32.3" cy="337.4" r="0.4"/></g>
<defs><radialGradient id="g5"><stop offset="0" stop-color="#fff"/><stop offset="0.5" stop-color="#ddd"/><stop offset="1" stop-color="#555"/></radialGradient></defs>
<path d="M28.8,317.6 C32.5,317.6 33.4,325 33.2,333 C33.1,337 32.5,339.5 33,341.5 C37.5,342.5 38,353.5 30,353.6 C22.5,353.8 22,343 25.5,341.5 C25.2,337 24.5,333 24.8,326 C25.1,320 26,317.6 28.8,317.6 Z" fill="#b0b0b0" stroke="#111" stroke-width="1.5"/>
<path d="M28.8,319.8 C30.8,319.8 31.2,326 31,333 C30.9,337 30.5,340 31,342.5 C34.5,343.5 34.8,351.3 29.8,351.3 C24.5,351.3 24.5,344 27,342.5 C27.2,338 26.8,333 26.8,326 C26.9,321 27.5,319.8 28.8,319.8 Z" fill="#d4d4d4" stroke="#333" stroke-width="0.5"/>
<ellipse cx="29.6" cy="347.6" rx="3.3" ry="2.8" fill="#fff"/>
<path d="M28.8,321.5 L28.9,340" stroke="#fff" stroke-width="1.1"/>
<text x="38.6" y="317.5" font-size="7.0" text-anchor="start" fill="#f06a6a" >Live cells</text>
<line x1="40.1" y1="325.6" x2="81" y2="325.6" stroke="#e8101c" stroke-width="2.2" />
<polygon points="79.5,322.3 79.5,328.90000000000003 86,325.6" fill="#e8101c"/>
<line x1="12.2" y1="312.9" x2="12.2" y2="338.6" stroke="#000" stroke-width="2" />
<polygon points="8.6,314.9 15.799999999999999,314.9 12.2,307.9" fill="#000"/>
<text transform="translate(14.799999999999999,351) rotate(-90)" font-size="7.3" text-anchor="middle">TCRβ</text>
<text x="18.2" y="372" font-size="7.3">PI</text>
<line x1="27.9" y1="369.6" x2="65.5" y2="369.6" stroke="#000" stroke-width="2" />
<polygon points="63.5,366.0 63.5,373.20000000000005 70.5,369.6" fill="#000"/>
<text x="17.8" y="385.7" font-size="7.0" text-anchor="start" fill="#000" >dump: CD11b, B220, NK1.1, TER119</text>
<rect x="87.8" y="309.5" width="53.000000000000014" height="51.30000000000001" fill="#fff" stroke="#c8c8c8" stroke-width="0.7"/>
<line x1="96.63333333333333" y1="359.6" x2="96.63333333333333" y2="360.8" stroke="#aaa" stroke-width="0.4" />
<line x1="105.46666666666667" y1="359.6" x2="105.46666666666667" y2="360.8" stroke="#aaa" stroke-width="0.4" />
<line x1="114.30000000000001" y1="359.6" x2="114.30000000000001" y2="360.8" stroke="#aaa" stroke-width="0.4" />
<line x1="123.13333333333334" y1="359.6" x2="123.13333333333334" y2="360.8" stroke="#aaa" stroke-width="0.4" />
<line x1="131.96666666666667" y1="359.6" x2="131.96666666666667" y2="360.8" stroke="#aaa" stroke-width="0.4" />
<line x1="87.8" y1="319.76" x2="89.0" y2="319.76" stroke="#aaa" stroke-width="0.4" />
<line x1="87.8" y1="330.02" x2="89.0" y2="330.02" stroke="#aaa" stroke-width="0.4" />
<line x1="87.8" y1="340.28000000000003" x2="89.0" y2="340.28000000000003" stroke="#aaa" stroke-width="0.4" />
<line x1="87.8" y1="350.54" x2="89.0" y2="350.54" stroke="#aaa" stroke-width="0.4" />
<rect x="95.8" y="361.40000000000003" width="5" height="1" fill="#666" opacity="0.6"/>
<rect x="86.2" y="348.8" width="1" height="5" fill="#666" opacity="0.5"/>
<polyline points="87.8,312.8 119.6,312.8 126.8,317.3 126.8,338.5 119,343.5 87.8,343.5" fill="none" stroke="#666" stroke-width="0.6"/>
<ellipse cx="105" cy="346.5" rx="9" ry="4.2" fill="#333" opacity="0.55" filter="url(#blr)"/>
<g fill="#222" opacity="0.55"><circle cx="105.7" cy="344.9" r="0.45"/><circle cx="108.7" cy="348.0" r="0.45"/><circle cx="97.0" cy="350.5" r="0.45"/><circle cx="115.0" cy="350.0" r="0.45"/><circle cx="99.7" cy="346.6" r="0.45"/><circle cx="110.5" cy="342.2" r="0.45"/><circle cx="102.6" cy="349.4" r="0.45"/><circle cx="107.1" cy="354.3" r="0.45"/><circle cx="108.0" cy="346.8" r="0.45"/><circle cx="96.9" cy="344.3" r="0.45"/><circle cx="100.0" cy="348.6" r="0.45"/><circle cx="103.7" cy="354.7" r="0.45"/><circle cx="105.7" cy="343.7" r="0.45"/><circle cx="113.3" cy="351.8" r="0.45"/><circle cx="104.6" cy="345.1" r="0.45"/><circle cx="109.5" cy="344.8" r="0.45"/><circle cx="96.1" cy="348.8" r="0.45"/><circle cx="105.5" cy="350.4" r="0.45"/><circle cx="107.9" cy="353.6" r="0.45"/><circle cx="99.0" cy="351.9" r="0.45"/><circle cx="98.1" cy="350.8" r="0.45"/><circle cx="105.1" cy="349.0" r="0.45"/><circle cx="109.8" cy="347.9" r="0.45"/><circle cx="110.7" cy="351.5" r="0.45"/><circle cx="104.8" cy="345.7" r="0.45"/><circle cx="99.5" cy="345.9" r="0.45"/><circle cx="102.8" cy="347.9" r="0.45"/><circle cx="108.6" cy="344.6" r="0.45"/><circle cx="99.7" cy="346.7" r="0.45"/><circle cx="105.2" cy="343.9" r="0.45"/><circle cx="113.7" cy="345.7" r="0.45"/><circle cx="104.0" cy="349.1" r="0.45"/><circle cx="105.1" cy="350.4" r="0.45"/><circle cx="105.7" cy="348.6" r="0.45"/><circle cx="105.8" cy="347.2" r="0.45"/><circle cx="99.1" cy="345.7" r="0.45"/><circle cx="115.1" cy="354.9" r="0.45"/><circle cx="103.7" cy="353.2" r="0.45"/><circle cx="101.1" cy="344.5" r="0.45"/><circle cx="100.6" cy="348.8" r="0.45"/><circle cx="104.3" cy="349.1" r="0.45"/><circle cx="103.8" cy="351.7" r="0.45"/><circle cx="114.7" cy="343.0" r="0.45"/><circle cx="105.0" cy="346.9" r="0.45"/><circle cx="106.1" cy="341.9" r="0.45"/><circle cx="107.2" cy="348.8" r="0.45"/><circle cx="101.8" cy="345.0" r="0.45"/><circle cx="95.5" cy="344.3" r="0.45"/><circle cx="108.2" cy="350.2" r="0.45"/><circle cx="103.9" cy="350.1" r="0.45"/><circle cx="100.4" cy="348.3" r="0.45"/><circle cx="104.2" cy="350.2" r="0.45"/><circle cx="103.6" cy="347.4" r="0.45"/><circle cx="103.2" cy="345.4" r="0.45"/><circle cx="112.4" cy="341.8" r="0.45"/><circle cx="108.2" cy="351.4" r="0.45"/><circle cx="115.3" cy="353.3" r="0.45"/><circle cx="108.6" cy="343.3" r="0.45"/><circle cx="98.8" cy="349.1" r="0.45"/><circle cx="107.0" cy="343.9" r="0.45"/><circle cx="101.7" cy="346.4" r="0.45"/><circle cx="104.4" cy="349.3" r="0.45"/><circle cx="102.3" cy="343.1" r="0.45"/><circle cx="111.5" cy="354.4" r="0.45"/><circle cx="103.4" cy="352.1" r="0.45"/><circle cx="106.7" cy="350.6" r="0.45"/><circle cx="106.9" cy="344.9" r="0.45"/><circle cx="107.4" cy="352.0" r="0.45"/><circle cx="98.6" cy="355.9" r="0.45"/><circle cx="115.9" cy="351.0" r="0.45"/><circle cx="102.0" cy="345.6" r="0.45"/><circle cx="99.1" cy="348.5" r="0.45"/><circle cx="103.8" cy="350.7" r="0.45"/><circle cx="108.1" cy="349.9" r="0.45"/><circle cx="105.6" cy="347.2" r="0.45"/><circle cx="103.3" cy="344.7" r="0.45"/><circle cx="105.1" cy="347.9" r="0.45"/><circle cx="105.9" cy="344.6" r="0.45"/><circle cx="104.2" cy="348.2" r="0.45"/><circle cx="107.6" cy="343.7" r="0.45"/><circle cx="106.5" cy="351.9" r="0.45"/><circle cx="107.6" cy="346.5" r="0.45"/><circle cx="101.1" cy="347.1" r="0.45"/><circle cx="108.4" cy="354.2" r="0.45"/><circle cx="103.1" cy="345.4" r="0.45"/><circle cx="106.3" cy="348.8" r="0.45"/><circle cx="98.6" cy="345.1" r="0.45"/><circle cx="103.4" cy="350.7" r="0.45"/><circle cx="96.8" cy="343.9" r="0.45"/><circle cx="107.0" cy="343.1" r="0.45"/><circle cx="104.7" cy="349.4" r="0.45"/><circle cx="103.3" cy="343.9" r="0.45"/><circle cx="103.6" cy="346.7" r="0.45"/><circle cx="106.0" cy="344.6" r="0.45"/><circle cx="110.5" cy="341.3" r="0.45"/><circle cx="102.9" cy="348.0" r="0.45"/><circle cx="109.8" cy="345.6" r="0.45"/><circle cx="107.3" cy="345.7" r="0.45"/><circle cx="108.4" cy="354.9" r="0.45"/><circle cx="101.6" cy="349.8" r="0.45"/><circle cx="98.4" cy="351.9" r="0.45"/><circle cx="111.3" cy="348.1" r="0.45"/><circle cx="97.2" cy="349.6" r="0.45"/><circle cx="110.9" cy="352.4" r="0.45"/><circle cx="99.9" cy="353.7" r="0.45"/><circle cx="96.6" cy="352.5" r="0.45"/><circle cx="115.3" cy="351.0" r="0.45"/><circle cx="110.7" cy="346.7" r="0.45"/><circle cx="96.6" cy="347.6" r="0.45"/><circle cx="102.8" cy="347.8" r="0.45"/><circle cx="108.2" cy="347.4" r="0.45"/><circle cx="105.2" cy="349.7" r="0.45"/><circle cx="104.0" cy="355.4" r="0.45"/><circle cx="106.7" cy="348.3" r="0.45"/><circle cx="102.8" cy="345.5" r="0.45"/><circle cx="112.1" cy="348.6" r="0.45"/><circle cx="97.5" cy="345.8" r="0.45"/><circle cx="103.2" cy="346.2" r="0.45"/><circle cx="110.5" cy="343.4" r="0.45"/><circle cx="107.0" cy="348.6" r="0.45"/><circle cx="96.9" cy="348.2" r="0.45"/><circle cx="103.4" cy="350.0" r="0.45"/><circle cx="101.3" cy="349.2" r="0.45"/><circle cx="108.7" cy="352.2" r="0.45"/><circle cx="103.9" cy="345.6" r="0.45"/><circle cx="99.2" cy="350.7" r="0.45"/><circle cx="107.9" cy="343.9" r="0.45"/><circle cx="104.9" cy="344.4" r="0.45"/><circle cx="104.3" cy="351.6" r="0.45"/><circle cx="110.8" cy="349.6" r="0.45"/><circle cx="104.0" cy="352.2" r="0.45"/><circle cx="100.2" cy="345.2" r="0.45"/><circle cx="101.8" cy="347.7" r="0.45"/><circle cx="97.5" cy="349.9" r="0.45"/><circle cx="107.3" cy="348.3" r="0.45"/><circle cx="114.2" cy="346.7" r="0.45"/><circle cx="111.8" cy="345.8" r="0.45"/><circle cx="105.2" cy="347.3" r="0.45"/><circle cx="101.0" cy="345.6" r="0.45"/><circle cx="101.9" cy="345.1" r="0.45"/><circle cx="100.7" cy="345.9" r="0.45"/><circle cx="97.7" cy="347.5" r="0.45"/><circle cx="108.7" cy="347.0" r="0.45"/><circle cx="101.0" cy="353.4" r="0.45"/><circle cx="109.9" cy="351.7" r="0.45"/><circle cx="110.9" cy="346.7" r="0.45"/><circle cx="103.2" cy="352.5" r="0.45"/><circle cx="100.7" cy="347.5" r="0.45"/><circle cx="106.3" cy="349.5" r="0.45"/><circle cx="102.3" cy="351.9" r="0.45"/><circle cx="102.9" cy="350.9" r="0.45"/><circle cx="110.4" cy="350.6" r="0.45"/></g>
<g fill="#333" opacity="0.25"><circle cx="131.0" cy="340.8" r="0.4"/><circle cx="117.5" cy="342.6" r="0.4"/><circle cx="99.1" cy="345.3" r="0.4"/><circle cx="112.0" cy="338.1" r="0.4"/><circle cx="119.6" cy="334.6" r="0.4"/><circle cx="104.5" cy="324.7" r="0.4"/><circle cx="100.1" cy="336.5" r="0.4"/><circle cx="108.2" cy="339.8" r="0.4"/><circle cx="89.6" cy="329.5" r="0.4"/><circle cx="132.1" cy="324.5" r="0.4"/><circle cx="116.8" cy="335.6" r="0.4"/><circle cx="103.2" cy="357.5" r="0.4"/><circle cx="103.8" cy="348.0" r="0.4"/><circle cx="96.9" cy="316.9" r="0.4"/><circle cx="132.6" cy="333.4" r="0.4"/><circle cx="92.1" cy="331.1" r="0.4"/><circle cx="111.0" cy="346.4" r="0.4"/><circle cx="94.5" cy="323.9" r="0.4"/><circle cx="137.0" cy="346.5" r="0.4"/><circle cx="96.7" cy="328.8" r="0.4"/><circle cx="106.6" cy="343.7" r="0.4"/><circle cx="119.8" cy="351.4" r="0.4"/><circle cx="130.1" cy="336.8" r="0.4"/><circle cx="125.9" cy="346.7" r="0.4"/><circle cx="127.0" cy="334.9" r="0.4"/><circle cx="128.2" cy="345.2" r="0.4"/><circle cx="134.7" cy="319.6" r="0.4"/><circle cx="132.5" cy="314.2" r="0.4"/><circle cx="127.3" cy="339.8" r="0.4"/><circle cx="113.9" cy="356.4" r="0.4"/><circle cx="117.6" cy="332.4" r="0.4"/><circle cx="128.2" cy="352.4" r="0.4"/><circle cx="119.4" cy="330.7" r="0.4"/><circle cx="111.6" cy="334.1" r="0.4"/><circle cx="125.2" cy="326.9" r="0.4"/><circle cx="108.5" cy="338.4" r="0.4"/><circle cx="108.2" cy="328.2" r="0.4"/><circle cx="128.4" cy="351.4" r="0.4"/><circle cx="114.0" cy="333.5" r="0.4"/><circle cx="98.2" cy="327.4" r="0.4"/><circle cx="96.2" cy="339.3" r="0.4"/><circle cx="118.1" cy="317.9" r="0.4"/><circle cx="135.0" cy="328.3" r="0.4"/><circle cx="131.2" cy="350.9" r="0.4"/><circle cx="136.9" cy="323.0" r="0.4"/><circle cx="110.3" cy="354.1" r="0.4"/><circle cx="89.5" cy="316.1" r="0.4"/><circle cx="117.2" cy="335.9" r="0.4"/><circle cx="135.0" cy="348.0" r="0.4"/><circle cx="115.9" cy="357.9" r="0.4"/><circle cx="114.9" cy="336.8" r="0.4"/><circle cx="123.3" cy="331.1" r="0.4"/><circle cx="106.9" cy="340.2" r="0.4"/><circle cx="106.6" cy="355.7" r="0.4"/><circle cx="122.8" cy="337.1" r="0.4"/><circle cx="93.9" cy="330.5" r="0.4"/><circle cx="109.0" cy="338.7" r="0.4"/><circle cx="117.7" cy="352.7" r="0.4"/><circle cx="137.2" cy="335.4" r="0.4"/><circle cx="111.0" cy="341.5" r="0.4"/><circle cx="138.8" cy="329.1" r="0.4"/><circle cx="115.5" cy="349.9" r="0.4"/><circle cx="97.5" cy="328.0" r="0.4"/><circle cx="137.9" cy="350.3" r="0.4"/><circle cx="114.6" cy="318.9" r="0.4"/><circle cx="133.7" cy="344.4" r="0.4"/><circle cx="130.0" cy="357.6" r="0.4"/><circle cx="133.4" cy="332.5" r="0.4"/><circle cx="96.8" cy="326.8" r="0.4"/><circle cx="114.6" cy="336.2" r="0.4"/><circle cx="98.4" cy="322.0" r="0.4"/><circle cx="120.5" cy="340.5" r="0.4"/><circle cx="106.7" cy="357.7" r="0.4"/><circle cx="120.8" cy="315.9" r="0.4"/><circle cx="109.6" cy="348.7" r="0.4"/><circle cx="104.3" cy="344.4" r="0.4"/><circle cx="89.2" cy="327.4" r="0.4"/><circle cx="131.1" cy="339.8" r="0.4"/><circle cx="122.4" cy="322.7" r="0.4"/><circle cx="113.9" cy="338.3" r="0.4"/></g>
<defs><radialGradient id="g6"><stop offset="0" stop-color="#fafafa"/><stop offset="0.55" stop-color="#e2e2e2"/><stop offset="0.85" stop-color="#bbb"/><stop offset="1" stop-color="#777"/></radialGradient></defs>
<path d="M94,321 C98,318.2 110,317.8 118,318.6 C124,319.3 127.4,321.5 127.2,326 C127,331 124.5,337 121.5,340.5 C118,343.5 108,343.5 101,342.6 C96.5,342 93.5,338 92.5,333 C91.5,328 91.8,323 94,321 Z" fill="url(#g6)" stroke="#222" stroke-width="1.2"/>
<path d="M96.5,323 C100,320.8 110,320.5 117,321.2 C122,321.8 124,323.5 123.8,327 C123.5,331 121.5,335.5 119,338 C116,340.5 108,340.6 102,340 C98.5,339.5 96.5,336 95.8,332 C95.2,328 95,324.5 96.5,323 Z" fill="none" stroke="#666" stroke-width="0.5"/>
<ellipse cx="99.8" cy="327.2" rx="1.8" ry="2.6" fill="#fff"/>
<path d="M96,341.5 C102,344.8 112,345 121,342.5" fill="none" stroke="#333" stroke-width="1.6" opacity="0.8"/>
<defs><radialGradient id="g7"><stop offset="0" stop-color="#fff"/><stop offset="0.6" stop-color="#e6e6e6"/><stop offset="1" stop-color="#aaa"/></radialGradient></defs>
<ellipse cx="125.2" cy="346.8" rx="10.6" ry="4.8" transform="rotate(-12 125.2 346.8)" fill="url(#g7)" stroke="#222" stroke-width="1.1"/>
<ellipse cx="125.6" cy="346.6" rx="7" ry="2.8" transform="rotate(-12 125.6 346.6)" fill="none" stroke="#777" stroke-width="0.45"/>
<text x="96.5" y="306.3" font-size="7.0" text-anchor="start" fill="#f06a6a" >TCRβ<tspan font-size="4.4" dy="-2.6">+</tspan><tspan dy="2.6"> dump</tspan><tspan font-size="4.4" dy="-2.6">-</tspan></text>
<line x1="120.7" y1="325.6" x2="143.5" y2="325.6" stroke="#e8101c" stroke-width="2.2" />
<polygon points="142.0,322.3 142.0,328.90000000000003 148.5,325.6" fill="#e8101c"/>
<line x1="81.5" y1="312.3" x2="81.5" y2="340" stroke="#000" stroke-width="2" />
<polygon points="77.9,314.3 85.1,314.3 81.5,307.3" fill="#000"/>
<text transform="translate(84.1,351) rotate(-90)" font-size="7.3" text-anchor="middle">TCRβ</text>
<text x="87.9" y="371.7" font-size="7.3">dump</text>
<line x1="107.7" y1="368.8" x2="135.5" y2="368.8" stroke="#000" stroke-width="2" />
<polygon points="133.5,365.2 133.5,372.40000000000003 140.5,368.8" fill="#000"/>
<rect x="157.8" y="308.3" width="52.39999999999998" height="52.5" fill="#fff" stroke="#c8c8c8" stroke-width="0.7"/>
<line x1="166.53333333333333" y1="359.6" x2="166.53333333333333" y2="360.8" stroke="#aaa" stroke-width="0.4" />
<line x1="175.26666666666668" y1="359.6" x2="175.26666666666668" y2="360.8" stroke="#aaa" stroke-width="0.4" />
<line x1="184.0" y1="359.6" x2="184.0" y2="360.8" stroke="#aaa" stroke-width="0.4" />
<line x1="192.73333333333332" y1="359.6" x2="192.73333333333332" y2="360.8" stroke="#aaa" stroke-width="0.4" />
<line x1="201.46666666666667" y1="359.6" x2="201.46666666666667" y2="360.8" stroke="#aaa" stroke-width="0.4" />
<line x1="157.8" y1="318.8" x2="159.0" y2="318.8" stroke="#aaa" stroke-width="0.4" />
<line x1="157.8" y1="329.3" x2="159.0" y2="329.3" stroke="#aaa" stroke-width="0.4" />
<line x1="157.8" y1="339.8" x2="159.0" y2="339.8" stroke="#aaa" stroke-width="0.4" />
<line x1="157.8" y1="350.3" x2="159.0" y2="350.3" stroke="#aaa" stroke-width="0.4" />
<rect x="165.8" y="361.40000000000003" width="5" height="1" fill="#666" opacity="0.6"/>
<rect x="156.20000000000002" y="348.8" width="1" height="5" fill="#666" opacity="0.5"/>
<polyline points="157.8,313.9 175.1,313.9 177.5,316.5 177.5,343 173.4,344.6 157.8,344.6" fill="none" stroke="#666" stroke-width="0.6"/>
<path d="M176,320 C184,316.8 196,316.2 203,318.5 C206.5,323 205.5,331 201.5,336 C196,340.5 186,341.5 176.5,342 Z" fill="#111" opacity="0.8" filter="url(#blr)"/>
<g fill="#111" opacity="0.5"><circle cx="188.8" cy="339.0" r="0.45"/><circle cx="182.7" cy="325.8" r="0.45"/><circle cx="193.4" cy="331.8" r="0.45"/><circle cx="190.2" cy="325.7" r="0.45"/><circle cx="194.0" cy="331.5" r="0.45"/><circle cx="175.3" cy="327.2" r="0.45"/><circle cx="179.0" cy="320.7" r="0.45"/><circle cx="191.2" cy="329.4" r="0.45"/><circle cx="190.9" cy="322.9" r="0.45"/><circle cx="188.4" cy="322.6" r="0.45"/><circle cx="193.1" cy="333.8" r="0.45"/><circle cx="204.0" cy="337.9" r="0.45"/><circle cx="183.6" cy="325.8" r="0.45"/><circle cx="182.5" cy="331.1" r="0.45"/><circle cx="205.8" cy="334.0" r="0.45"/><circle cx="172.4" cy="320.2" r="0.45"/><circle cx="179.7" cy="332.6" r="0.45"/><circle cx="190.0" cy="331.1" r="0.45"/><circle cx="204.3" cy="323.2" r="0.45"/><circle cx="183.2" cy="342.8" r="0.45"/><circle cx="192.7" cy="323.5" r="0.45"/><circle cx="173.8" cy="318.3" r="0.45"/><circle cx="170.4" cy="329.5" r="0.45"/><circle cx="190.4" cy="336.0" r="0.45"/><circle cx="188.9" cy="324.1" r="0.45"/><circle cx="184.1" cy="342.3" r="0.45"/><circle cx="175.9" cy="330.2" r="0.45"/><circle cx="190.2" cy="333.3" r="0.45"/><circle cx="186.8" cy="332.5" r="0.45"/><circle cx="196.5" cy="328.0" r="0.45"/><circle cx="186.3" cy="327.7" r="0.45"/><circle cx="182.3" cy="327.5" r="0.45"/><circle cx="187.6" cy="330.5" r="0.45"/><circle cx="200.7" cy="338.2" r="0.45"/><circle cx="186.4" cy="333.2" r="0.45"/><circle cx="192.4" cy="334.3" r="0.45"/><circle cx="190.2" cy="330.9" r="0.45"/><circle cx="186.2" cy="323.5" r="0.45"/><circle cx="197.0" cy="338.1" r="0.45"/><circle cx="195.3" cy="332.1" r="0.45"/><circle cx="192.1" cy="325.8" r="0.45"/><circle cx="175.7" cy="333.6" r="0.45"/><circle cx="191.6" cy="325.1" r="0.45"/><circle cx="182.3" cy="337.9" r="0.45"/><circle cx="175.6" cy="341.3" r="0.45"/><circle cx="195.1" cy="345.6" r="0.45"/><circle cx="184.3" cy="328.8" r="0.45"/><circle cx="185.9" cy="330.1" r="0.45"/><circle cx="188.3" cy="323.8" r="0.45"/><circle cx="198.6" cy="323.5" r="0.45"/><circle cx="185.9" cy="332.9" r="0.45"/><circle cx="185.7" cy="326.0" r="0.45"/><circle cx="192.8" cy="326.4" r="0.45"/><circle cx="180.0" cy="328.3" r="0.45"/><circle cx="188.2" cy="340.9" r="0.45"/><circle cx="181.2" cy="335.8" r="0.45"/><circle cx="183.7" cy="326.5" r="0.45"/><circle cx="187.4" cy="330.9" r="0.45"/><circle cx="196.9" cy="341.2" r="0.45"/><circle cx="184.9" cy="338.3" r="0.45"/><circle cx="198.0" cy="334.7" r="0.45"/><circle cx="183.9" cy="335.3" r="0.45"/><circle cx="189.1" cy="331.5" r="0.45"/><circle cx="187.8" cy="333.6" r="0.45"/><circle cx="198.9" cy="336.9" r="0.45"/><circle cx="188.4" cy="336.0" r="0.45"/><circle cx="201.6" cy="322.5" r="0.45"/><circle cx="201.8" cy="319.7" r="0.45"/><circle cx="194.3" cy="333.2" r="0.45"/><circle cx="201.9" cy="331.0" r="0.45"/><circle cx="186.2" cy="323.4" r="0.45"/><circle cx="180.0" cy="334.4" r="0.45"/><circle cx="188.1" cy="324.0" r="0.45"/><circle cx="194.3" cy="323.6" r="0.45"/><circle cx="186.5" cy="325.8" r="0.45"/><circle cx="203.2" cy="339.2" r="0.45"/><circle cx="188.7" cy="318.0" r="0.45"/><circle cx="192.2" cy="329.5" r="0.45"/><circle cx="192.8" cy="333.0" r="0.45"/><circle cx="187.4" cy="335.5" r="0.45"/><circle cx="196.7" cy="330.5" r="0.45"/><circle cx="186.7" cy="325.6" r="0.45"/><circle cx="195.5" cy="321.3" r="0.45"/><circle cx="188.7" cy="323.8" r="0.45"/><circle cx="178.9" cy="333.2" r="0.45"/><circle cx="189.8" cy="329.3" r="0.45"/><circle cx="197.0" cy="318.5" r="0.45"/><circle cx="189.5" cy="331.0" r="0.45"/><circle cx="196.7" cy="321.4" r="0.45"/><circle cx="195.7" cy="330.5" r="0.45"/><circle cx="200.8" cy="337.0" r="0.45"/><circle cx="194.4" cy="344.0" r="0.45"/><circle cx="190.0" cy="326.0" r="0.45"/><circle cx="187.3" cy="322.4" r="0.45"/><circle cx="189.8" cy="315.9" r="0.45"/><circle cx="189.3" cy="332.0" r="0.45"/><circle cx="197.9" cy="326.6" r="0.45"/><circle cx="201.1" cy="324.4" r="0.45"/><circle cx="188.9" cy="315.9" r="0.45"/><circle cx="183.9" cy="323.5" r="0.45"/><circle cx="201.7" cy="332.6" r="0.45"/><circle cx="181.4" cy="332.6" r="0.45"/><circle cx="193.8" cy="327.4" r="0.45"/><circle cx="190.2" cy="326.9" r="0.45"/><circle cx="185.8" cy="316.9" r="0.45"/><circle cx="189.3" cy="337.8" r="0.45"/><circle cx="201.2" cy="327.1" r="0.45"/><circle cx="184.2" cy="327.6" r="0.45"/><circle cx="197.0" cy="331.4" r="0.45"/><circle cx="185.4" cy="331.5" r="0.45"/><circle cx="188.4" cy="332.5" r="0.45"/><circle cx="186.8" cy="319.0" r="0.45"/><circle cx="190.5" cy="334.2" r="0.45"/><circle cx="181.4" cy="328.3" r="0.45"/><circle cx="196.8" cy="326.4" r="0.45"/><circle cx="184.9" cy="342.9" r="0.45"/><circle cx="196.5" cy="336.0" r="0.45"/><circle cx="182.6" cy="340.1" r="0.45"/><circle cx="177.1" cy="325.5" r="0.45"/><circle cx="195.8" cy="338.1" r="0.45"/><circle cx="182.8" cy="324.5" r="0.45"/><circle cx="191.5" cy="315.9" r="0.45"/><circle cx="195.0" cy="332.8" r="0.45"/><circle cx="186.5" cy="332.7" r="0.45"/><circle cx="196.0" cy="331.1" r="0.45"/><circle cx="194.1" cy="339.3" r="0.45"/><circle cx="186.3" cy="330.1" r="0.45"/><circle cx="185.9" cy="336.0" r="0.45"/><circle cx="186.8" cy="332.2" r="0.45"/><circle cx="191.1" cy="329.5" r="0.45"/><circle cx="203.3" cy="328.4" r="0.45"/><circle cx="201.0" cy="334.6" r="0.45"/><circle cx="200.2" cy="327.9" r="0.45"/><circle cx="197.2" cy="334.1" r="0.45"/><circle cx="185.2" cy="330.8" r="0.45"/><circle cx="189.0" cy="328.8" r="0.45"/><circle cx="200.1" cy="324.1" r="0.45"/><circle cx="177.0" cy="317.2" r="0.45"/><circle cx="186.5" cy="324.6" r="0.45"/><circle cx="190.1" cy="332.8" r="0.45"/><circle cx="203.6" cy="331.1" r="0.45"/><circle cx="193.6" cy="324.0" r="0.45"/><circle cx="194.5" cy="338.2" r="0.45"/><circle cx="200.3" cy="315.8" r="0.45"/><circle cx="196.9" cy="339.7" r="0.45"/><circle cx="196.4" cy="318.9" r="0.45"/><circle cx="187.6" cy="333.0" r="0.45"/><circle cx="193.2" cy="323.5" r="0.45"/><circle cx="183.1" cy="335.5" r="0.45"/><circle cx="179.7" cy="338.7" r="0.45"/><circle cx="190.2" cy="331.0" r="0.45"/><circle cx="179.7" cy="325.0" r="0.45"/><circle cx="195.3" cy="319.1" r="0.45"/><circle cx="205.9" cy="319.5" r="0.45"/><circle cx="180.6" cy="329.3" r="0.45"/><circle cx="193.7" cy="333.9" r="0.45"/><circle cx="187.1" cy="327.6" r="0.45"/><circle cx="188.2" cy="325.1" r="0.45"/><circle cx="170.2" cy="335.5" r="0.45"/><circle cx="191.9" cy="330.1" r="0.45"/><circle cx="185.2" cy="330.7" r="0.45"/><circle cx="189.9" cy="328.5" r="0.45"/><circle cx="198.5" cy="317.4" r="0.45"/><circle cx="191.9" cy="321.8" r="0.45"/><circle cx="187.6" cy="339.1" r="0.45"/><circle cx="181.7" cy="328.3" r="0.45"/><circle cx="185.5" cy="335.4" r="0.45"/><circle cx="182.5" cy="317.7" r="0.45"/><circle cx="193.9" cy="326.6" r="0.45"/><circle cx="187.5" cy="336.3" r="0.45"/><circle cx="183.2" cy="326.5" r="0.45"/><circle cx="191.1" cy="331.8" r="0.45"/><circle cx="186.0" cy="336.0" r="0.45"/><circle cx="204.4" cy="314.8" r="0.45"/><circle cx="200.8" cy="326.7" r="0.45"/><circle cx="191.1" cy="326.7" r="0.45"/><circle cx="185.1" cy="320.4" r="0.45"/><circle cx="187.0" cy="337.7" r="0.45"/><circle cx="198.8" cy="326.7" r="0.45"/><circle cx="185.9" cy="324.3" r="0.45"/><circle cx="180.8" cy="341.1" r="0.45"/><circle cx="195.1" cy="329.8" r="0.45"/><circle cx="186.2" cy="322.1" r="0.45"/><circle cx="200.1" cy="334.2" r="0.45"/><circle cx="182.7" cy="335.6" r="0.45"/><circle cx="181.5" cy="333.3" r="0.45"/><circle cx="182.6" cy="326.2" r="0.45"/><circle cx="193.8" cy="331.9" r="0.45"/><circle cx="197.8" cy="323.4" r="0.45"/><circle cx="202.1" cy="338.0" r="0.45"/><circle cx="189.9" cy="332.1" r="0.45"/><circle cx="184.0" cy="328.0" r="0.45"/><circle cx="179.9" cy="329.6" r="0.45"/><circle cx="191.5" cy="338.0" r="0.45"/><circle cx="197.3" cy="334.5" r="0.45"/><circle cx="187.2" cy="327.5" r="0.45"/><circle cx="187.4" cy="330.5" r="0.45"/><circle cx="175.2" cy="334.2" r="0.45"/><circle cx="178.0" cy="325.5" r="0.45"/><circle cx="190.2" cy="325.5" r="0.45"/><circle cx="202.8" cy="328.3" r="0.45"/><circle cx="202.1" cy="336.9" r="0.45"/><circle cx="186.2" cy="331.7" r="0.45"/><circle cx="200.0" cy="326.8" r="0.45"/><circle cx="190.7" cy="325.2" r="0.45"/><circle cx="190.5" cy="326.6" r="0.45"/><circle cx="190.6" cy="335.7" r="0.45"/><circle cx="200.7" cy="329.9" r="0.45"/><circle cx="191.6" cy="334.8" r="0.45"/><circle cx="187.8" cy="321.9" r="0.45"/><circle cx="198.5" cy="322.7" r="0.45"/><circle cx="197.1" cy="322.5" r="0.45"/><circle cx="204.1" cy="322.0" r="0.45"/><circle cx="196.5" cy="339.1" r="0.45"/><circle cx="182.6" cy="339.0" r="0.45"/><circle cx="183.7" cy="317.1" r="0.45"/><circle cx="195.5" cy="333.7" r="0.45"/><circle cx="189.6" cy="326.9" r="0.45"/><circle cx="187.1" cy="327.1" r="0.45"/><circle cx="176.3" cy="325.2" r="0.45"/><circle cx="203.8" cy="339.4" r="0.45"/><circle cx="187.2" cy="324.2" r="0.45"/><circle cx="193.0" cy="336.1" r="0.45"/><circle cx="195.6" cy="321.1" r="0.45"/><circle cx="191.2" cy="329.9" r="0.45"/><circle cx="201.0" cy="337.0" r="0.45"/><circle cx="194.0" cy="337.2" r="0.45"/><circle cx="187.0" cy="339.3" r="0.45"/><circle cx="186.7" cy="331.7" r="0.45"/><circle cx="197.1" cy="322.9" r="0.45"/><circle cx="184.6" cy="317.2" r="0.45"/><circle cx="191.3" cy="328.6" r="0.45"/><circle cx="187.5" cy="332.3" r="0.45"/><circle cx="173.7" cy="328.8" r="0.45"/><circle cx="190.7" cy="327.2" r="0.45"/><circle cx="196.1" cy="340.8" r="0.45"/><circle cx="186.6" cy="322.7" r="0.45"/><circle cx="185.4" cy="329.6" r="0.45"/><circle cx="194.5" cy="323.2" r="0.45"/><circle cx="197.7" cy="322.1" r="0.45"/><circle cx="196.4" cy="331.9" r="0.45"/><circle cx="193.6" cy="343.5" r="0.45"/><circle cx="188.0" cy="327.9" r="0.45"/><circle cx="193.7" cy="334.8" r="0.45"/><circle cx="179.7" cy="330.8" r="0.45"/><circle cx="184.3" cy="333.2" r="0.45"/><circle cx="200.5" cy="329.3" r="0.45"/><circle cx="189.2" cy="330.2" r="0.45"/><circle cx="194.3" cy="330.1" r="0.45"/><circle cx="187.0" cy="324.1" r="0.45"/><circle cx="188.6" cy="337.2" r="0.45"/><circle cx="189.2" cy="338.1" r="0.45"/><circle cx="170.2" cy="325.9" r="0.45"/><circle cx="192.1" cy="328.9" r="0.45"/><circle cx="177.3" cy="324.5" r="0.45"/><circle cx="199.6" cy="320.3" r="0.45"/><circle cx="182.4" cy="321.6" r="0.45"/><circle cx="185.8" cy="333.3" r="0.45"/><circle cx="194.6" cy="315.4" r="0.45"/><circle cx="201.2" cy="325.0" r="0.45"/><circle cx="185.5" cy="340.2" r="0.45"/><circle cx="189.4" cy="320.7" r="0.45"/><circle cx="185.1" cy="324.1" r="0.45"/><circle cx="182.2" cy="326.8" r="0.45"/><circle cx="196.7" cy="331.4" r="0.45"/><circle cx="182.4" cy="329.8" r="0.45"/><circle cx="190.2" cy="334.1" r="0.45"/><circle cx="187.5" cy="332.1" r="0.45"/><circle cx="206.2" cy="329.6" r="0.45"/><circle cx="181.7" cy="331.2" r="0.45"/><circle cx="183.8" cy="326.5" r="0.45"/><circle cx="191.4" cy="331.3" r="0.45"/><circle cx="187.8" cy="334.7" r="0.45"/><circle cx="188.5" cy="320.2" r="0.45"/><circle cx="196.7" cy="326.6" r="0.45"/><circle cx="199.3" cy="324.6" r="0.45"/><circle cx="194.4" cy="331.1" r="0.45"/><circle cx="181.4" cy="338.5" r="0.45"/><circle cx="175.5" cy="335.1" r="0.45"/><circle cx="198.4" cy="332.3" r="0.45"/><circle cx="195.2" cy="325.7" r="0.45"/><circle cx="189.9" cy="330.5" r="0.45"/><circle cx="193.2" cy="333.8" r="0.45"/><circle cx="188.4" cy="324.3" r="0.45"/><circle cx="185.7" cy="331.8" r="0.45"/><circle cx="177.2" cy="320.6" r="0.45"/><circle cx="186.8" cy="325.3" r="0.45"/><circle cx="187.4" cy="327.3" r="0.45"/><circle cx="196.0" cy="315.7" r="0.45"/><circle cx="187.6" cy="332.2" r="0.45"/><circle cx="193.8" cy="337.0" r="0.45"/><circle cx="198.1" cy="321.9" r="0.45"/><circle cx="194.9" cy="326.7" r="0.45"/></g>
<path d="M177,323 C183,321 188,320.5 192,321.5 C197,319.5 201,320.5 202,324 C202.5,327.5 199,329.5 193,329 C188,328.5 184,328 179,328 Z" fill="#111"/>
<defs><radialGradient id="g8"><stop offset="0" stop-color="#f4f4f4"/><stop offset="0.6" stop-color="#cfcfcf"/><stop offset="1" stop-color="#888"/></radialGradient></defs>
<path d="M167,318.5 C170,316.7 176,316.8 180,318.8 C182.5,320.2 183,322.5 182,325.5 C179,331 175,338 172,342.5 C170,344.5 167.5,344 166.7,341 C166,336 166,328 166.2,323 C166.3,320.5 166.5,319 167,318.5 Z" fill="url(#g8)" stroke="#000" stroke-width="1.6"/>
<path d="M170,321 L170.5,338" stroke="#fff" stroke-width="1.5" opacity="0.8"/>
<path d="M178,321.5 L184.5,324.8 L178.5,328 Z" fill="#fff"/>
<ellipse cx="194.6" cy="325" rx="4.6" ry="2.7" fill="#fff" stroke="#000" stroke-width="0.6"/>
<text x="170" y="357.7" font-size="7.0" text-anchor="start" fill="#f06a6a" >TCRβ<tspan font-size="4.4" dy="-2.6">+</tspan><tspan dy="2.6"> IVS</tspan><tspan font-size="4.4" dy="-2.6">-</tspan></text>
<line x1="177.7" y1="313" x2="206.8" y2="313" stroke="#e8101c" stroke-width="2.2" />
<polygon points="205.3,309.7 205.3,316.3 211.8,313" fill="#e8101c"/>
<line x1="150" y1="312.7" x2="150" y2="340" stroke="#000" stroke-width="2" />
<polygon points="146.4,314.7 153.6,314.7 150,307.7" fill="#000"/>
<text transform="translate(152.6,352) rotate(-90)" font-size="7.3" text-anchor="middle">TCRβ</text>
<text x="158.8" y="371.6" font-size="7.0">CD45-IVS</text>
<line x1="192" y1="369" x2="206.8" y2="369" stroke="#000" stroke-width="2" />
<polygon points="204.8,365.4 204.8,372.6 211.8,369" fill="#000"/>
<rect x="226.8" y="308.9" width="53.0" height="51.900000000000034" fill="#fff" stroke="#c8c8c8" stroke-width="0.7"/>
<line x1="235.63333333333335" y1="359.6" x2="235.63333333333335" y2="360.8" stroke="#aaa" stroke-width="0.4" />
<line x1="244.46666666666667" y1="359.6" x2="244.46666666666667" y2="360.8" stroke="#aaa" stroke-width="0.4" />
<line x1="253.3" y1="359.6" x2="253.3" y2="360.8" stroke="#aaa" stroke-width="0.4" />
<line x1="262.1333333333333" y1="359.6" x2="262.1333333333333" y2="360.8" stroke="#aaa" stroke-width="0.4" />
<line x1="270.9666666666667" y1="359.6" x2="270.9666666666667" y2="360.8" stroke="#aaa" stroke-width="0.4" />
<line x1="226.8" y1="319.28" x2="228.0" y2="319.28" stroke="#aaa" stroke-width="0.4" />
<line x1="226.8" y1="329.65999999999997" x2="228.0" y2="329.65999999999997" stroke="#aaa" stroke-width="0.4" />
<line x1="226.8" y1="340.04" x2="228.0" y2="340.04" stroke="#aaa" stroke-width="0.4" />
<line x1="226.8" y1="350.42" x2="228.0" y2="350.42" stroke="#aaa" stroke-width="0.4" />
<rect x="234.8" y="361.40000000000003" width="5" height="1" fill="#666" opacity="0.6"/>
<rect x="225.20000000000002" y="348.8" width="1" height="5" fill="#666" opacity="0.5"/>
<path d="M250.8,359.6 L250.8,338 Q251.5,334.6 254.7,334.6 L275.9,334.6 L278.7,338.5 L278.7,360" fill="none" stroke="#888" stroke-width="0.6"/>
<g fill="#333" opacity="0.25"><circle cx="247.4" cy="329.4" r="0.35"/><circle cx="248.4" cy="317.9" r="0.35"/><circle cx="249.6" cy="317.9" r="0.35"/><circle cx="257.8" cy="323.8" r="0.35"/><circle cx="260.1" cy="324.0" r="0.35"/><circle cx="248.5" cy="327.0" r="0.35"/><circle cx="248.2" cy="319.8" r="0.35"/><circle cx="251.0" cy="322.2" r="0.35"/><circle cx="258.9" cy="319.1" r="0.35"/><circle cx="254.0" cy="321.9" r="0.35"/><circle cx="244.7" cy="316.7" r="0.35"/><circle cx="250.7" cy="323.9" r="0.35"/><circle cx="253.9" cy="324.3" r="0.35"/><circle cx="252.3" cy="319.8" r="0.35"/><circle cx="254.5" cy="317.2" r="0.35"/><circle cx="244.2" cy="320.4" r="0.35"/><circle cx="243.7" cy="319.5" r="0.35"/><circle cx="247.7" cy="319.3" r="0.35"/><circle cx="251.7" cy="318.1" r="0.35"/><circle cx="249.6" cy="313.8" r="0.35"/><circle cx="252.8" cy="317.8" r="0.35"/><circle cx="247.4" cy="323.2" r="0.35"/><circle cx="237.9" cy="320.3" r="0.35"/><circle cx="252.5" cy="322.5" r="0.35"/><circle cx="243.3" cy="323.1" r="0.35"/><circle cx="252.9" cy="317.3" r="0.35"/><circle cx="256.3" cy="321.8" r="0.35"/><circle cx="252.1" cy="319.8" r="0.35"/><circle cx="255.2" cy="322.5" r="0.35"/><circle cx="258.6" cy="324.2" r="0.35"/><circle cx="248.4" cy="320.9" r="0.35"/><circle cx="257.3" cy="320.2" r="0.35"/><circle cx="254.2" cy="324.5" r="0.35"/><circle cx="252.8" cy="323.0" r="0.35"/><circle cx="252.8" cy="318.3" r="0.35"/><circle cx="259.0" cy="321.3" r="0.35"/><circle cx="248.4" cy="318.5" r="0.35"/><circle cx="254.1" cy="316.7" r="0.35"/><circle cx="246.2" cy="331.7" r="0.35"/><circle cx="259.6" cy="327.1" r="0.35"/><circle cx="259.9" cy="324.9" r="0.35"/><circle cx="242.2" cy="327.8" r="0.35"/><circle cx="259.2" cy="324.4" r="0.35"/><circle cx="240.6" cy="328.0" r="0.35"/><circle cx="259.9" cy="319.6" r="0.35"/><circle cx="252.7" cy="325.8" r="0.35"/><circle cx="251.5" cy="327.3" r="0.35"/><circle cx="252.5" cy="325.3" r="0.35"/><circle cx="252.5" cy="314.8" r="0.35"/><circle cx="253.6" cy="328.3" r="0.35"/><circle cx="258.6" cy="330.3" r="0.35"/><circle cx="255.2" cy="319.1" r="0.35"/><circle cx="252.1" cy="312.7" r="0.35"/><circle cx="250.9" cy="326.4" r="0.35"/><circle cx="239.4" cy="323.0" r="0.35"/><circle cx="256.8" cy="328.4" r="0.35"/><circle cx="246.6" cy="318.8" r="0.35"/><circle cx="241.1" cy="317.1" r="0.35"/><circle cx="245.3" cy="328.7" r="0.35"/><circle cx="254.5" cy="319.6" r="0.35"/><circle cx="251.6" cy="323.1" r="0.35"/><circle cx="257.7" cy="328.6" r="0.35"/><circle cx="255.0" cy="323.7" r="0.35"/></g>
<g fill="#222" opacity="0.5"><circle cx="248.5" cy="348.8" r="0.35"/><circle cx="245.4" cy="355.7" r="0.35"/><circle cx="247.7" cy="343.9" r="0.35"/><circle cx="249.8" cy="349.9" r="0.35"/><circle cx="249.5" cy="355.3" r="0.35"/><circle cx="248.7" cy="349.2" r="0.35"/><circle cx="246.8" cy="349.9" r="0.35"/><circle cx="247.7" cy="350.6" r="0.35"/><circle cx="246.5" cy="355.6" r="0.35"/><circle cx="251.5" cy="352.4" r="0.35"/><circle cx="251.1" cy="352.4" r="0.35"/><circle cx="251.0" cy="354.1" r="0.35"/><circle cx="251.9" cy="353.9" r="0.35"/><circle cx="247.5" cy="350.0" r="0.35"/><circle cx="246.9" cy="352.8" r="0.35"/><circle cx="251.4" cy="348.6" r="0.35"/><circle cx="252.6" cy="346.7" r="0.35"/><circle cx="248.7" cy="351.9" r="0.35"/><circle cx="248.9" cy="351.1" r="0.35"/><circle cx="252.4" cy="351.0" r="0.35"/><circle cx="245.8" cy="352.1" r="0.35"/><circle cx="248.7" cy="350.3" r="0.35"/><circle cx="247.3" cy="346.0" r="0.35"/><circle cx="245.4" cy="349.0" r="0.35"/><circle cx="245.9" cy="342.1" r="0.35"/><circle cx="252.4" cy="346.6" r="0.35"/><circle cx="246.9" cy="351.6" r="0.35"/><circle cx="246.8" cy="351.9" r="0.35"/><circle cx="247.6" cy="350.9" r="0.35"/><circle cx="249.3" cy="350.0" r="0.35"/><circle cx="243.7" cy="345.7" r="0.35"/><circle cx="248.9" cy="354.1" r="0.35"/><circle cx="247.4" cy="351.6" r="0.35"/><circle cx="249.5" cy="351.4" r="0.35"/><circle cx="251.9" cy="345.6" r="0.35"/><circle cx="249.8" cy="349.5" r="0.35"/><circle cx="248.1" cy="347.5" r="0.35"/><circle cx="246.7" cy="347.0" r="0.35"/><circle cx="254.0" cy="350.0" r="0.35"/><circle cx="251.2" cy="347.1" r="0.35"/><circle cx="249.4" cy="354.2" r="0.35"/><circle cx="248.9" cy="347.1" r="0.35"/><circle cx="248.3" cy="347.1" r="0.35"/><circle cx="244.9" cy="349.3" r="0.35"/><circle cx="247.8" cy="347.6" r="0.35"/><circle cx="246.4" cy="347.3" r="0.35"/><circle cx="249.7" cy="354.1" r="0.35"/><circle cx="244.3" cy="350.8" r="0.35"/><circle cx="245.6" cy="349.5" r="0.35"/><circle cx="249.3" cy="351.6" r="0.35"/><circle cx="252.3" cy="348.4" r="0.35"/><circle cx="245.4" cy="349.4" r="0.35"/><circle cx="249.9" cy="348.0" r="0.35"/><circle cx="251.6" cy="354.9" r="0.35"/><circle cx="244.8" cy="351.1" r="0.35"/><circle cx="252.0" cy="344.4" r="0.35"/><circle cx="249.6" cy="349.3" r="0.35"/><circle cx="244.8" cy="353.8" r="0.35"/><circle cx="249.6" cy="348.6" r="0.35"/><circle cx="250.3" cy="351.9" r="0.35"/><circle cx="251.2" cy="351.7" r="0.35"/><circle cx="250.2" cy="346.6" r="0.35"/><circle cx="247.8" cy="350.4" r="0.35"/><circle cx="247.9" cy="346.9" r="0.35"/><circle cx="243.7" cy="350.7" r="0.35"/><circle cx="249.1" cy="348.3" r="0.35"/><circle cx="247.8" cy="347.4" r="0.35"/><circle cx="246.8" cy="349.7" r="0.35"/><circle cx="247.1" cy="352.0" r="0.35"/><circle cx="248.6" cy="350.4" r="0.35"/><circle cx="250.2" cy="353.7" r="0.35"/><circle cx="250.8" cy="350.7" r="0.35"/><circle cx="248.5" cy="347.6" r="0.35"/></g>
<defs><radialGradient id="g9"><stop offset="0" stop-color="#fafafa"/><stop offset="0.6" stop-color="#d8d8d8"/><stop offset="1" stop-color="#999"/></radialGradient></defs>
<path d="M232.6,318 C232.6,312.5 236,311.8 240.5,311.8 C245,311.8 248.6,312.8 248.4,318 C248.2,324 245.5,329 243.8,334 C243.3,340 243.6,348 243.4,353.5 C243.2,356.3 241.5,357 239.5,357 C237,357 235.4,356 235.2,353 C235,346 235.4,340 234.8,334 C233.8,328 232.6,323 232.6,318 Z" fill="url(#g9)" stroke="#111" stroke-width="1.2"/>
<path d="M235,318.5 C235,314.5 237.5,314 240.5,314 C243.5,314 246,315 246,318.5 C246,323 243.8,328 242,333.5 C241.4,340 241.6,348 241.4,353 C240.5,354.6 238.3,354.6 237.5,353 C237.2,347 237.5,340 236.8,333.5 C236,328 235,323 235,318.5 Z" fill="none" stroke="#444" stroke-width="0.55"/>
<path d="M237.5,319 C237.5,316.5 239,316.2 240.5,316.2 C242,316.2 243.5,316.8 243.5,319 C243.5,323 241.5,328 240.6,332 C240,328 237.5,323 237.5,319 Z" fill="none" stroke="#555" stroke-width="0.45"/>
<path d="M243.3,350.5 C247,350.8 250.5,351 253.5,350" fill="none" stroke="#222" stroke-width="1.4"/>
<path d="M252,351.5 C254,346 257.5,339.5 261.5,336.5 C264.5,334.8 269,335.5 270.5,338.5 C271.5,342 271.3,349 270.2,352.8 C269,355.3 265,355.3 261,355 C257,354.8 253.5,354 252,351.5 Z" fill="#f4f4f4" stroke="#111" stroke-width="1.4"/>
<path d="M256,350.5 C257.5,346 260,341.5 263,339.5 C265.5,338.3 268,339 268.5,341.5 C269,345 268.8,349 268,351 C266,352.5 262,352.5 259,352 C257.5,351.8 256.5,351.3 256,350.5 Z" fill="#fff" stroke="#888" stroke-width="0.4"/>
<path d="M228.5,310 L249.7,310 L248.5,331.8 L241.8,334.6 L226.8,334.6" fill="none" stroke="#e8303a" stroke-width="0.7"/>
<text x="236.5" y="305.4" font-size="7.0" text-anchor="start" fill="#e8101c" font-weight="bold" >CD8<tspan font-size="4.4" dy="-2.6">+</tspan></text>
<text x="264.2" y="328.5" font-size="7.0" text-anchor="start" fill="#f06a6a" >CD4<tspan font-size="4.4" dy="-2.6">+</tspan></text>
<line x1="218.5" y1="312" x2="218.5" y2="342.3" stroke="#000" stroke-width="2" />
<polygon points="214.9,314 222.1,314 218.5,307" fill="#000"/>
<text transform="translate(221.1,352.5) rotate(-90)" font-size="7.3" text-anchor="middle">CD8</text>
<text x="228" y="371.6" font-size="7.3">CD4</text>
<line x1="242.7" y1="369" x2="274.8" y2="369" stroke="#000" stroke-width="2" />
<polygon points="272.8,365.4 272.8,372.6 279.8,369" fill="#000"/>
<text x="287.6" y="200.4" font-size="12.3" text-anchor="start" fill="#000" font-weight="bold" >F</text>
<rect x="303.6" y="281.2" width="216" height="31.8" rx="4" fill="#eef5e8" stroke="#e8707a" stroke-width="1"/>
<path d="M310,232 Q303.6,233.5 303.6,241 L303.6,311.5 Q303.6,317.5 309.6,317.5 L353.4,317.5 Q359.4,317.5 359.4,311.5 L359.4,241 Q359.4,234 353,232.2" fill="none" stroke="#555" stroke-width="0.9"/>
<path d="M463.7,235 L463.7,311.5 Q463.7,317.7 469.7,317.7 L519,317.7 M518.6,236 L518.6,318" fill="none" stroke="#555" stroke-width="0.9"/>
<text x="331.9" y="229.4" font-size="11.2" text-anchor="middle" fill="#222" >dLN</text>
<text x="412.5" y="222.8" font-size="11.2" text-anchor="middle" fill="#222" >Circulation</text>
<text x="491.3" y="232.6" font-size="11.2" text-anchor="middle" fill="#222" >Tumor</text>
<rect x="355" y="233.1" width="98" height="5" fill="#3a67c0"/>
<polygon points="450,228.6 466,235.6 450,242.6" fill="#3a67c0"/>
<defs><radialGradient id="g10"><stop offset="0" stop-color="#f8f6f6"/><stop offset="0.55" stop-color="#e8e4e4"/><stop offset="1" stop-color="#d4cece"/></radialGradient></defs>
<g transform="translate(317.5,258.8) rotate(-10)"><line x1="0.00" y1="-3.15" x2="0.00" y2="-6.52" stroke="#a04a58" stroke-width="0.6"/><line x1="0.00" y1="-6.52" x2="-1.74" y2="-8.59" stroke="#a04a58" stroke-width="0.6"/><line x1="0.00" y1="-6.52" x2="1.74" y2="-8.59" stroke="#a04a58" stroke-width="0.6"/><line x1="2.73" y1="1.57" x2="5.65" y2="3.26" stroke="#a04a58" stroke-width="0.6"/><line x1="5.65" y1="3.26" x2="8.31" y2="2.79" stroke="#a04a58" stroke-width="0.6"/><line x1="5.65" y1="3.26" x2="6.57" y2="5.80" stroke="#a04a58" stroke-width="0.6"/><line x1="-2.73" y1="1.57" x2="-5.65" y2="3.26" stroke="#a04a58" stroke-width="0.6"/><line x1="-5.65" y1="3.26" x2="-6.57" y2="5.80" stroke="#a04a58" stroke-width="0.6"/><line x1="-5.65" y1="3.26" x2="-8.31" y2="2.79" stroke="#a04a58" stroke-width="0.6"/><circle r="4.5" fill="url(#g10)"/></g>
<defs><radialGradient id="g11"><stop offset="0" stop-color="#f8f6f6"/><stop offset="0.55" stop-color="#e8e4e4"/><stop offset="1" stop-color="#d4cece"/></radialGradient></defs>
<g transform="translate(330.6,251.9) rotate(-40)"><line x1="0.00" y1="-3.15" x2="0.00" y2="-6.52" stroke="#a04a58" stroke-width="0.6"/><line x1="0.00" y1="-6.52" x2="-1.74" y2="-8.59" stroke="#a04a58" stroke-width="0.6"/><line x1="0.00" y1="-6.52" x2="1.74" y2="-8.59" stroke="#a04a58" stroke-width="0.6"/><line x1="2.73" y1="1.57" x2="5.65" y2="3.26" stroke="#a04a58" stroke-width="0.6"/><line x1="5.65" y1="3.26" x2="8.31" y2="2.79" stroke="#a04a58" stroke-width="0.6"/><line x1="5.65" y1="3.26" x2="6.57" y2="5.80" stroke="#a04a58" stroke-width="0.6"/><line x1="-2.73" y1="1.57" x2="-5.65" y2="3.26" stroke="#a04a58" stroke-width="0.6"/><line x1="-5.65" y1="3.26" x2="-6.57" y2="5.80" stroke="#a04a58" stroke-width="0.6"/><line x1="-5.65" y1="3.26" x2="-8.31" y2="2.79" stroke="#a04a58" stroke-width="0.6"/><circle r="4.5" fill="url(#g11)"/></g>
<defs><radialGradient id="g12"><stop offset="0" stop-color="#f8f6f6"/><stop offset="0.55" stop-color="#e8e4e4"/><stop offset="1" stop-color="#d4cece"/></radialGradient></defs>
<g transform="translate(337.5,259.4) rotate(10)"><line x1="0.00" y1="-3.15" x2="0.00" y2="-6.52" stroke="#a04a58" stroke-width="0.6"/><line x1="0.00" y1="-6.52" x2="-1.74" y2="-8.59" stroke="#a04a58" stroke-width="0.6"/><line x1="0.00" y1="-6.52" x2="1.74" y2="-8.59" stroke="#a04a58" stroke-width="0.6"/><line x1="2.73" y1="1.57" x2="5.65" y2="3.26" stroke="#a04a58" stroke-width="0.6"/><line x1="5.65" y1="3.26" x2="8.31" y2="2.79" stroke="#a04a58" stroke-width="0.6"/><line x1="5.65" y1="3.26" x2="6.57" y2="5.80" stroke="#a04a58" stroke-width="0.6"/><line x1="-2.73" y1="1.57" x2="-5.65" y2="3.26" stroke="#a04a58" stroke-width="0.6"/><line x1="-5.65" y1="3.26" x2="-6.57" y2="5.80" stroke="#a04a58" stroke-width="0.6"/><line x1="-5.65" y1="3.26" x2="-8.31" y2="2.79" stroke="#a04a58" stroke-width="0.6"/><circle r="4.5" fill="url(#g12)"/></g>
<defs><radialGradient id="g13"><stop offset="0" stop-color="#f8f6f6"/><stop offset="0.55" stop-color="#e8e4e4"/><stop offset="1" stop-color="#d4cece"/></radialGradient></defs>
<g transform="translate(350,254.4) rotate(-20)"><line x1="0.00" y1="-3.15" x2="0.00" y2="-6.52" stroke="#a04a58" stroke-width="0.6"/><line x1="0.00" y1="-6.52" x2="-1.74" y2="-8.59" stroke="#a04a58" stroke-width="0.6"/><line x1="0.00" y1="-6.52" x2="1.74" y2="-8.59" stroke="#a04a58" stroke-width="0.6"/><line x1="2.73" y1="1.57" x2="5.65" y2="3.26" stroke="#a04a58" stroke-width="0.6"/><line x1="5.65" y1="3.26" x2="8.31" y2="2.79" stroke="#a04a58" stroke-width="0.6"/><line x1="5.65" y1="3.26" x2="6.57" y2="5.80" stroke="#a04a58" stroke-width="0.6"/><line x1="-2.73" y1="1.57" x2="-5.65" y2="3.26" stroke="#a04a58" stroke-width="0.6"/><line x1="-5.65" y1="3.26" x2="-6.57" y2="5.80" stroke="#a04a58" stroke-width="0.6"/><line x1="-5.65" y1="3.26" x2="-8.31" y2="2.79" stroke="#a04a58" stroke-width="0.6"/><circle r="4.5" fill="url(#g13)"/></g>
<defs><radialGradient id="g14"><stop offset="0" stop-color="#f8f6f6"/><stop offset="0.55" stop-color="#e8e4e4"/><stop offset="1" stop-color="#d4cece"/></radialGradient></defs>
<g transform="translate(318,272.5) rotate(-35)"><line x1="0.00" y1="-3.15" x2="0.00" y2="-6.52" stroke="#a04a58" stroke-width="0.6"/><line x1="0.00" y1="-6.52" x2="-1.74" y2="-8.59" stroke="#a04a58" stroke-width="0.6"/><line x1="0.00" y1="-6.52" x2="1.74" y2="-8.59" stroke="#a04a58" stroke-width="0.6"/><line x1="2.73" y1="1.57" x2="5.65" y2="3.26" stroke="#a04a58" stroke-width="0.6"/><line x1="5.65" y1="3.26" x2="8.31" y2="2.79" stroke="#a04a58" stroke-width="0.6"/><line x1="5.65" y1="3.26" x2="6.57" y2="5.80" stroke="#a04a58" stroke-width="0.6"/><line x1="-2.73" y1="1.57" x2="-5.65" y2="3.26" stroke="#a04a58" stroke-width="0.6"/><line x1="-5.65" y1="3.26" x2="-6.57" y2="5.80" stroke="#a04a58" stroke-width="0.6"/><line x1="-5.65" y1="3.26" x2="-8.31" y2="2.79" stroke="#a04a58" stroke-width="0.6"/><circle r="4.5" fill="url(#g14)"/></g>
<defs><radialGradient id="g15"><stop offset="0" stop-color="#f8f6f6"/><stop offset="0.55" stop-color="#e8e4e4"/><stop offset="1" stop-color="#d4cece"/></radialGradient></defs>
<g transform="translate(331.25,271.9) rotate(0)"><line x1="0.00" y1="-3.15" x2="0.00" y2="-6.52" stroke="#a04a58" stroke-width="0.6"/><line x1="0.00" y1="-6.52" x2="-1.74" y2="-8.59" stroke="#a04a58" stroke-width="0.6"/><line x1="0.00" y1="-6.52" x2="1.74" y2="-8.59" stroke="#a04a58" stroke-width="0.6"/><line x1="2.73" y1="1.57" x2="5.65" y2="3.26" stroke="#a04a58" stroke-width="0.6"/><line x1="5.65" y1="3.26" x2="8.31" y2="2.79" stroke="#a04a58" stroke-width="0.6"/><line x1="5.65" y1="3.26" x2="6.57" y2="5.80" stroke="#a04a58" stroke-width="0.6"/><line x1="-2.73" y1="1.57" x2="-5.65" y2="3.26" stroke="#a04a58" stroke-width="0.6"/><line x1="-5.65" y1="3.26" x2="-6.57" y2="5.80" stroke="#a04a58" stroke-width="0.6"/><line x1="-5.65" y1="3.26" x2="-8.31" y2="2.79" stroke="#a04a58" stroke-width="0.6"/><circle r="4.5" fill="url(#g15)"/></g>
<defs><radialGradient id="g16"><stop offset="0" stop-color="#f8f6f6"/><stop offset="0.55" stop-color="#e8e4e4"/><stop offset="1" stop-color="#d4cece"/></radialGradient></defs>
<g transform="translate(347.5,271.25) rotate(-25)"><line x1="0.00" y1="-3.15" x2="0.00" y2="-6.52" stroke="#a04a58" stroke-width="0.6"/><line x1="0.00" y1="-6.52" x2="-1.74" y2="-8.59" stroke="#a04a58" stroke-width="0.6"/><line x1="0.00" y1="-6.52" x2="1.74" y2="-8.59" stroke="#a04a58" stroke-width="0.6"/><line x1="2.73" y1="1.57" x2="5.65" y2="3.26" stroke="#a04a58" stroke-width="0.6"/><line x1="5.65" y1="3.26" x2="8.31" y2="2.79" stroke="#a04a58" stroke-width="0.6"/><line x1="5.65" y1="3.26" x2="6.57" y2="5.80" stroke="#a04a58" stroke-width="0.6"/><line x1="-2.73" y1="1.57" x2="-5.65" y2="3.26" stroke="#a04a58" stroke-width="0.6"/><line x1="-5.65" y1="3.26" x2="-6.57" y2="5.80" stroke="#a04a58" stroke-width="0.6"/><line x1="-5.65" y1="3.26" x2="-8.31" y2="2.79" stroke="#a04a58" stroke-width="0.6"/><circle r="4.5" fill="url(#g16)"/></g>
<defs><radialGradient id="g17"><stop offset="0" stop-color="#e8f4fb"/><stop offset="0.4" stop-color="#9cc8e6"/><stop offset="1" stop-color="#4f86bc"/></radialGradient></defs>
<g transform="translate(321.3,288.6) rotate(-5)"><line x1="0.00" y1="-3.15" x2="0.00" y2="-6.52" stroke="#8a4a55" stroke-width="0.6"/><line x1="0.00" y1="-6.52" x2="-1.74" y2="-8.59" stroke="#8a4a55" stroke-width="0.6"/><line x1="0.00" y1="-6.52" x2="1.74" y2="-8.59" stroke="#8a4a55" stroke-width="0.6"/><line x1="2.73" y1="1.57" x2="5.65" y2="3.26" stroke="#8a4a55" stroke-width="0.6"/><line x1="5.65" y1="3.26" x2="8.31" y2="2.79" stroke="#8a4a55" stroke-width="0.6"/><line x1="5.65" y1="3.26" x2="6.57" y2="5.80" stroke="#8a4a55" stroke-width="0.6"/><line x1="-2.73" y1="1.57" x2="-5.65" y2="3.26" stroke="#8a4a55" stroke-width="0.6"/><line x1="-5.65" y1="3.26" x2="-6.57" y2="5.80" stroke="#8a4a55" stroke-width="0.6"/><line x1="-5.65" y1="3.26" x2="-8.31" y2="2.79" stroke="#8a4a55" stroke-width="0.6"/><circle r="4.5" fill="url(#g17)"/></g>
<defs><radialGradient id="g18"><stop offset="0" stop-color="#fdeaea"/><stop offset="0.45" stop-color="#f4b8b8"/><stop offset="1" stop-color="#e09494"/></radialGradient></defs>
<g transform="translate(344,294.9) rotate(-30)"><line x1="0.00" y1="-3.15" x2="0.00" y2="-6.52" stroke="#8a4a55" stroke-width="0.6"/><line x1="0.00" y1="-6.52" x2="-1.74" y2="-8.59" stroke="#8a4a55" stroke-width="0.6"/><line x1="0.00" y1="-6.52" x2="1.74" y2="-8.59" stroke="#8a4a55" stroke-width="0.6"/><line x1="2.73" y1="1.57" x2="5.65" y2="3.26" stroke="#8a4a55" stroke-width="0.6"/><line x1="5.65" y1="3.26" x2="8.31" y2="2.79" stroke="#8a4a55" stroke-width="0.6"/><line x1="5.65" y1="3.26" x2="6.57" y2="5.80" stroke="#8a4a55" stroke-width="0.6"/><line x1="-2.73" y1="1.57" x2="-5.65" y2="3.26" stroke="#8a4a55" stroke-width="0.6"/><line x1="-5.65" y1="3.26" x2="-6.57" y2="5.80" stroke="#8a4a55" stroke-width="0.6"/><line x1="-5.65" y1="3.26" x2="-8.31" y2="2.79" stroke="#8a4a55" stroke-width="0.6"/><circle r="4.5" fill="url(#g18)"/></g>
<defs><radialGradient id="g19"><stop offset="0" stop-color="#fdeaea"/><stop offset="0.45" stop-color="#f4b8b8"/><stop offset="1" stop-color="#e09494"/></radialGradient></defs>
<g transform="translate(328,301.2) rotate(5)"><line x1="0.00" y1="-3.15" x2="0.00" y2="-6.52" stroke="#8a4a55" stroke-width="0.6"/><line x1="0.00" y1="-6.52" x2="-1.74" y2="-8.59" stroke="#8a4a55" stroke-width="0.6"/><line x1="0.00" y1="-6.52" x2="1.74" y2="-8.59" stroke="#8a4a55" stroke-width="0.6"/><line x1="2.73" y1="1.57" x2="5.65" y2="3.26" stroke="#8a4a55" stroke-width="0.6"/><line x1="5.65" y1="3.26" x2="8.31" y2="2.79" stroke="#8a4a55" stroke-width="0.6"/><line x1="5.65" y1="3.26" x2="6.57" y2="5.80" stroke="#8a4a55" stroke-width="0.6"/><line x1="-2.73" y1="1.57" x2="-5.65" y2="3.26" stroke="#8a4a55" stroke-width="0.6"/><line x1="-5.65" y1="3.26" x2="-6.57" y2="5.80" stroke="#8a4a55" stroke-width="0.6"/><line x1="-5.65" y1="3.26" x2="-8.31" y2="2.79" stroke="#8a4a55" stroke-width="0.6"/><circle r="4.5" fill="url(#g19)"/></g>
<defs><radialGradient id="g20"><stop offset="0" stop-color="#fdeaea"/><stop offset="0.45" stop-color="#f4b8b8"/><stop offset="1" stop-color="#e09494"/></radialGradient></defs>
<g transform="translate(398.8,247.5) rotate(-20)"><line x1="0.00" y1="-3.15" x2="0.00" y2="-6.52" stroke="#8a4a55" stroke-width="0.6"/><line x1="0.00" y1="-6.52" x2="-1.74" y2="-8.59" stroke="#8a4a55" stroke-width="0.6"/><line x1="0.00" y1="-6.52" x2="1.74" y2="-8.59" stroke="#8a4a55" stroke-width="0.6"/><line x1="2.73" y1="1.57" x2="5.65" y2="3.26" stroke="#8a4a55" stroke-width="0.6"/><line x1="5.65" y1="3.26" x2="8.31" y2="2.79" stroke="#8a4a55" stroke-width="0.6"/><line x1="5.65" y1="3.26" x2="6.57" y2="5.80" stroke="#8a4a55" stroke-width="0.6"/><line x1="-2.73" y1="1.57" x2="-5.65" y2="3.26" stroke="#8a4a55" stroke-width="0.6"/><line x1="-5.65" y1="3.26" x2="-6.57" y2="5.80" stroke="#8a4a55" stroke-width="0.6"/><line x1="-5.65" y1="3.26" x2="-8.31" y2="2.79" stroke="#8a4a55" stroke-width="0.6"/><circle r="4.5" fill="url(#g20)"/></g>
<defs><radialGradient id="g21"><stop offset="0" stop-color="#e8f4fb"/><stop offset="0.4" stop-color="#9cc8e6"/><stop offset="1" stop-color="#4f86bc"/></radialGradient></defs>
<g transform="translate(425,252.5) rotate(0)"><line x1="0.00" y1="-3.15" x2="0.00" y2="-6.52" stroke="#8a4a55" stroke-width="0.6"/><line x1="0.00" y1="-6.52" x2="-1.74" y2="-8.59" stroke="#8a4a55" stroke-width="0.6"/><line x1="0.00" y1="-6.52" x2="1.74" y2="-8.59" stroke="#8a4a55" stroke-width="0.6"/><line x1="2.73" y1="1.57" x2="5.65" y2="3.26" stroke="#8a4a55" stroke-width="0.6"/><line x1="5.65" y1="3.26" x2="8.31" y2="2.79" stroke="#8a4a55" stroke-width="0.6"/><line x1="5.65" y1="3.26" x2="6.57" y2="5.80" stroke="#8a4a55" stroke-width="0.6"/><line x1="-2.73" y1="1.57" x2="-5.65" y2="3.26" stroke="#8a4a55" stroke-width="0.6"/><line x1="-5.65" y1="3.26" x2="-6.57" y2="5.80" stroke="#8a4a55" stroke-width="0.6"/><line x1="-5.65" y1="3.26" x2="-8.31" y2="2.79" stroke="#8a4a55" stroke-width="0.6"/><circle r="4.5" fill="url(#g21)"/></g>
<defs><radialGradient id="g22"><stop offset="0" stop-color="#f2f2f2"/><stop offset="0.45" stop-color="#cacaca"/><stop offset="1" stop-color="#a0a0a0"/></radialGradient></defs>
<g transform="translate(475,250) rotate(-20)"><line x1="0.00" y1="-3.15" x2="0.00" y2="-6.52" stroke="#777" stroke-width="0.6"/><line x1="0.00" y1="-6.52" x2="-1.74" y2="-8.59" stroke="#777" stroke-width="0.6"/><line x1="0.00" y1="-6.52" x2="1.74" y2="-8.59" stroke="#777" stroke-width="0.6"/><line x1="2.73" y1="1.57" x2="5.65" y2="3.26" stroke="#777" stroke-width="0.6"/><line x1="5.65" y1="3.26" x2="8.31" y2="2.79" stroke="#777" stroke-width="0.6"/><line x1="5.65" y1="3.26" x2="6.57" y2="5.80" stroke="#777" stroke-width="0.6"/><line x1="-2.73" y1="1.57" x2="-5.65" y2="3.26" stroke="#777" stroke-width="0.6"/><line x1="-5.65" y1="3.26" x2="-6.57" y2="5.80" stroke="#777" stroke-width="0.6"/><line x1="-5.65" y1="3.26" x2="-8.31" y2="2.79" stroke="#777" stroke-width="0.6"/><circle r="4.5" fill="url(#g22)"/></g>
<defs><radialGradient id="g23"><stop offset="0" stop-color="#f2f2f2"/><stop offset="0.45" stop-color="#cacaca"/><stop offset="1" stop-color="#a0a0a0"/></radialGradient></defs>
<g transform="translate(497.5,252.5) rotate(-10)"><line x1="0.00" y1="-3.15" x2="0.00" y2="-6.52" stroke="#777" stroke-width="0.6"/><line x1="0.00" y1="-6.52" x2="-1.74" y2="-8.59" stroke="#777" stroke-width="0.6"/><line x1="0.00" y1="-6.52" x2="1.74" y2="-8.59" stroke="#777" stroke-width="0.6"/><line x1="2.73" y1="1.57" x2="5.65" y2="3.26" stroke="#777" stroke-width="0.6"/><line x1="5.65" y1="3.26" x2="8.31" y2="2.79" stroke="#777" stroke-width="0.6"/><line x1="5.65" y1="3.26" x2="6.57" y2="5.80" stroke="#777" stroke-width="0.6"/><line x1="-2.73" y1="1.57" x2="-5.65" y2="3.26" stroke="#777" stroke-width="0.6"/><line x1="-5.65" y1="3.26" x2="-6.57" y2="5.80" stroke="#777" stroke-width="0.6"/><line x1="-5.65" y1="3.26" x2="-8.31" y2="2.79" stroke="#777" stroke-width="0.6"/><circle r="4.5" fill="url(#g23)"/></g>
<defs><radialGradient id="g24"><stop offset="0" stop-color="#f2f2f2"/><stop offset="0.45" stop-color="#cacaca"/><stop offset="1" stop-color="#a0a0a0"/></radialGradient></defs>
<g transform="translate(477.5,268.75) rotate(-30)"><line x1="0.00" y1="-3.15" x2="0.00" y2="-6.52" stroke="#777" stroke-width="0.6"/><line x1="0.00" y1="-6.52" x2="-1.74" y2="-8.59" stroke="#777" stroke-width="0.6"/><line x1="0.00" y1="-6.52" x2="1.74" y2="-8.59" stroke="#777" stroke-width="0.6"/><line x1="2.73" y1="1.57" x2="5.65" y2="3.26" stroke="#777" stroke-width="0.6"/><line x1="5.65" y1="3.26" x2="8.31" y2="2.79" stroke="#777" stroke-width="0.6"/><line x1="5.65" y1="3.26" x2="6.57" y2="5.80" stroke="#777" stroke-width="0.6"/><line x1="-2.73" y1="1.57" x2="-5.65" y2="3.26" stroke="#777" stroke-width="0.6"/><line x1="-5.65" y1="3.26" x2="-6.57" y2="5.80" stroke="#777" stroke-width="0.6"/><line x1="-5.65" y1="3.26" x2="-8.31" y2="2.79" stroke="#777" stroke-width="0.6"/><circle r="4.5" fill="url(#g24)"/></g>
<defs><radialGradient id="g25"><stop offset="0" stop-color="#f2f2f2"/><stop offset="0.45" stop-color="#cacaca"/><stop offset="1" stop-color="#a0a0a0"/></radialGradient></defs>
<g transform="translate(490,263.75) rotate(0)"><line x1="0.00" y1="-3.15" x2="0.00" y2="-6.52" stroke="#777" stroke-width="0.6"/><line x1="0.00" y1="-6.52" x2="-1.74" y2="-8.59" stroke="#777" stroke-width="0.6"/><line x1="0.00" y1="-6.52" x2="1.74" y2="-8.59" stroke="#777" stroke-width="0.6"/><line x1="2.73" y1="1.57" x2="5.65" y2="3.26" stroke="#777" stroke-width="0.6"/><line x1="5.65" y1="3.26" x2="8.31" y2="2.79" stroke="#777" stroke-width="0.6"/><line x1="5.65" y1="3.26" x2="6.57" y2="5.80" stroke="#777" stroke-width="0.6"/><line x1="-2.73" y1="1.57" x2="-5.65" y2="3.26" stroke="#777" stroke-width="0.6"/><line x1="-5.65" y1="3.26" x2="-6.57" y2="5.80" stroke="#777" stroke-width="0.6"/><line x1="-5.65" y1="3.26" x2="-8.31" y2="2.79" stroke="#777" stroke-width="0.6"/><circle r="4.5" fill="url(#g25)"/></g>
<defs><radialGradient id="g26"><stop offset="0" stop-color="#f2f2f2"/><stop offset="0.45" stop-color="#cacaca"/><stop offset="1" stop-color="#a0a0a0"/></radialGradient></defs>
<g transform="translate(503.75,271.25) rotate(-20)"><line x1="0.00" y1="-3.15" x2="0.00" y2="-6.52" stroke="#777" stroke-width="0.6"/><line x1="0.00" y1="-6.52" x2="-1.74" y2="-8.59" stroke="#777" stroke-width="0.6"/><line x1="0.00" y1="-6.52" x2="1.74" y2="-8.59" stroke="#777" stroke-width="0.6"/><line x1="2.73" y1="1.57" x2="5.65" y2="3.26" stroke="#777" stroke-width="0.6"/><line x1="5.65" y1="3.26" x2="8.31" y2="2.79" stroke="#777" stroke-width="0.6"/><line x1="5.65" y1="3.26" x2="6.57" y2="5.80" stroke="#777" stroke-width="0.6"/><line x1="-2.73" y1="1.57" x2="-5.65" y2="3.26" stroke="#777" stroke-width="0.6"/><line x1="-5.65" y1="3.26" x2="-6.57" y2="5.80" stroke="#777" stroke-width="0.6"/><line x1="-5.65" y1="3.26" x2="-8.31" y2="2.79" stroke="#777" stroke-width="0.6"/><circle r="4.5" fill="url(#g26)"/></g>
<defs><radialGradient id="g27"><stop offset="0" stop-color="#e8f4fb"/><stop offset="0.4" stop-color="#9cc8e6"/><stop offset="1" stop-color="#4f86bc"/></radialGradient></defs>
<g transform="translate(471,290.3) rotate(-10)"><line x1="0.00" y1="-3.15" x2="0.00" y2="-6.52" stroke="#8a4a55" stroke-width="0.6"/><line x1="0.00" y1="-6.52" x2="-1.74" y2="-8.59" stroke="#8a4a55" stroke-width="0.6"/><line x1="0.00" y1="-6.52" x2="1.74" y2="-8.59" stroke="#8a4a55" stroke-width="0.6"/><line x1="2.73" y1="1.57" x2="5.65" y2="3.26" stroke="#8a4a55" stroke-width="0.6"/><line x1="5.65" y1="3.26" x2="8.31" y2="2.79" stroke="#8a4a55" stroke-width="0.6"/><line x1="5.65" y1="3.26" x2="6.57" y2="5.80" stroke="#8a4a55" stroke-width="0.6"/><line x1="-2.73" y1="1.57" x2="-5.65" y2="3.26" stroke="#8a4a55" stroke-width="0.6"/><line x1="-5.65" y1="3.26" x2="-6.57" y2="5.80" stroke="#8a4a55" stroke-width="0.6"/><line x1="-5.65" y1="3.26" x2="-8.31" y2="2.79" stroke="#8a4a55" stroke-width="0.6"/><circle r="4.5" fill="url(#g27)"/></g>
<defs><radialGradient id="g28"><stop offset="0" stop-color="#e8f4fb"/><stop offset="0.4" stop-color="#9cc8e6"/><stop offset="1" stop-color="#4f86bc"/></radialGradient></defs>
<g transform="translate(486.8,290.3) rotate(-10)"><line x1="0.00" y1="-3.15" x2="0.00" y2="-6.52" stroke="#8a4a55" stroke-width="0.6"/><line x1="0.00" y1="-6.52" x2="-1.74" y2="-8.59" stroke="#8a4a55" stroke-width="0.6"/><line x1="0.00" y1="-6.52" x2="1.74" y2="-8.59" stroke="#8a4a55" stroke-width="0.6"/><line x1="2.73" y1="1.57" x2="5.65" y2="3.26" stroke="#8a4a55" stroke-width="0.6"/><line x1="5.65" y1="3.26" x2="8.31" y2="2.79" stroke="#8a4a55" stroke-width="0.6"/><line x1="5.65" y1="3.26" x2="6.57" y2="5.80" stroke="#8a4a55" stroke-width="0.6"/><line x1="-2.73" y1="1.57" x2="-5.65" y2="3.26" stroke="#8a4a55" stroke-width="0.6"/><line x1="-5.65" y1="3.26" x2="-6.57" y2="5.80" stroke="#8a4a55" stroke-width="0.6"/><line x1="-5.65" y1="3.26" x2="-8.31" y2="2.79" stroke="#8a4a55" stroke-width="0.6"/><circle r="4.5" fill="url(#g28)"/></g>
<defs><radialGradient id="g29"><stop offset="0" stop-color="#e8f4fb"/><stop offset="0.4" stop-color="#9cc8e6"/><stop offset="1" stop-color="#4f86bc"/></radialGradient></defs>
<g transform="translate(502.7,290.3) rotate(-10)"><line x1="0.00" y1="-3.15" x2="0.00" y2="-6.52" stroke="#8a4a55" stroke-width="0.6"/><line x1="0.00" y1="-6.52" x2="-1.74" y2="-8.59" stroke="#8a4a55" stroke-width="0.6"/><line x1="0.00" y1="-6.52" x2="1.74" y2="-8.59" stroke="#8a4a55" stroke-width="0.6"/><line x1="2.73" y1="1.57" x2="5.65" y2="3.26" stroke="#8a4a55" stroke-width="0.6"/><line x1="5.65" y1="3.26" x2="8.31" y2="2.79" stroke="#8a4a55" stroke-width="0.6"/><line x1="5.65" y1="3.26" x2="6.57" y2="5.80" stroke="#8a4a55" stroke-width="0.6"/><line x1="-2.73" y1="1.57" x2="-5.65" y2="3.26" stroke="#8a4a55" stroke-width="0.6"/><line x1="-5.65" y1="3.26" x2="-6.57" y2="5.80" stroke="#8a4a55" stroke-width="0.6"/><line x1="-5.65" y1="3.26" x2="-8.31" y2="2.79" stroke="#8a4a55" stroke-width="0.6"/><circle r="4.5" fill="url(#g29)"/></g>
<defs><radialGradient id="g30"><stop offset="0" stop-color="#fdeaea"/><stop offset="0.45" stop-color="#f4b8b8"/><stop offset="1" stop-color="#e09494"/></radialGradient></defs>
<g transform="translate(478.2,301.8) rotate(-30)"><line x1="0.00" y1="-3.15" x2="0.00" y2="-6.52" stroke="#8a4a55" stroke-width="0.6"/><line x1="0.00" y1="-6.52" x2="-1.74" y2="-8.59" stroke="#8a4a55" stroke-width="0.6"/><line x1="0.00" y1="-6.52" x2="1.74" y2="-8.59" stroke="#8a4a55" stroke-width="0.6"/><line x1="2.73" y1="1.57" x2="5.65" y2="3.26" stroke="#8a4a55" stroke-width="0.6"/><line x1="5.65" y1="3.26" x2="8.31" y2="2.79" stroke="#8a4a55" stroke-width="0.6"/><line x1="5.65" y1="3.26" x2="6.57" y2="5.80" stroke="#8a4a55" stroke-width="0.6"/><line x1="-2.73" y1="1.57" x2="-5.65" y2="3.26" stroke="#8a4a55" stroke-width="0.6"/><line x1="-5.65" y1="3.26" x2="-6.57" y2="5.80" stroke="#8a4a55" stroke-width="0.6"/><line x1="-5.65" y1="3.26" x2="-8.31" y2="2.79" stroke="#8a4a55" stroke-width="0.6"/><circle r="4.5" fill="url(#g30)"/></g>
<defs><radialGradient id="g31"><stop offset="0" stop-color="#fdeaea"/><stop offset="0.45" stop-color="#f4b8b8"/><stop offset="1" stop-color="#e09494"/></radialGradient></defs>
<g transform="translate(494,301.8) rotate(-30)"><line x1="0.00" y1="-3.15" x2="0.00" y2="-6.52" stroke="#8a4a55" stroke-width="0.6"/><line x1="0.00" y1="-6.52" x2="-1.74" y2="-8.59" stroke="#8a4a55" stroke-width="0.6"/><line x1="0.00" y1="-6.52" x2="1.74" y2="-8.59" stroke="#8a4a55" stroke-width="0.6"/><line x1="2.73" y1="1.57" x2="5.65" y2="3.26" stroke="#8a4a55" stroke-width="0.6"/><line x1="5.65" y1="3.26" x2="8.31" y2="2.79" stroke="#8a4a55" stroke-width="0.6"/><line x1="5.65" y1="3.26" x2="6.57" y2="5.80" stroke="#8a4a55" stroke-width="0.6"/><line x1="-2.73" y1="1.57" x2="-5.65" y2="3.26" stroke="#8a4a55" stroke-width="0.6"/><line x1="-5.65" y1="3.26" x2="-6.57" y2="5.80" stroke="#8a4a55" stroke-width="0.6"/><line x1="-5.65" y1="3.26" x2="-8.31" y2="2.79" stroke="#8a4a55" stroke-width="0.6"/><circle r="4.5" fill="url(#g31)"/></g>
<text x="332" y="337.3" font-size="9.3" text-anchor="middle" fill="#000" >OL = 30%</text>
<text x="491.2" y="338.4" font-size="9.3" text-anchor="middle" fill="#000" >OL = 50%</text>
<text x="413.2" y="332" font-size="11.3" text-anchor="middle" fill="#000" font-weight="bold" >dLN-Tumor</text>
<text x="413" y="346" font-size="11.3" text-anchor="middle" fill="#000" font-weight="bold" >OL clones</text>
<text x="3.4" y="404.4" font-size="12.3" text-anchor="start" fill="#000" font-weight="bold" >G</text>
<line x1="28.3" y1="416" x2="28.3" y2="499.2" stroke="#000" stroke-width="2" />
<polygon points="24.7,418 31.9,418 28.3,410.6" fill="#000"/>
<text transform="translate(19.7,436.2) rotate(-90)" font-size="9.2" text-anchor="middle">Freq. (%)</text>
<rect x="50.3" y="417.0" width="75.0" height="81.39999999999998" fill="#7b7b7b"/>
<polygon points="50.3,497.18 125.3,449.15 125.3,498.4 50.3,498.4" fill="#7fc2d5"/>
<polygon points="50.3,497.59 125.3,461.77 125.3,498.4 50.3,498.4" fill="#96cddb"/>
<polygon points="50.3,497.75 125.3,471.54 125.3,498.4 50.3,498.4" fill="#acd7df"/>
<polygon points="50.3,497.91 125.3,480.49 125.3,498.4 50.3,498.4" fill="#d6ebe8"/>
<polygon points="50.3,497.99 125.3,484.15 125.3,498.4 50.3,498.4" fill="#f0deb5"/>
<polyline points="50.9,497.18 50.9,497.79999999999995 124.7,497.79999999999995 124.7,449.15" fill="none" stroke="#ee7078" stroke-width="1.2"/>
<line x1="50.3" y1="497.18" x2="125.3" y2="449.15" stroke="#c41420" stroke-width="2.3"/>
<text x="60.9" y="431.6" font-size="11.5" text-anchor="start" fill="#a3b6d0" >Non-OL</text>
<text x="99.3" y="490" font-size="12" text-anchor="start" fill="#d0303c" >OL</text>
<text x="87.8" y="409.4" font-size="9.1" text-anchor="middle" fill="#000" font-weight="bold" >Control</text>
<text x="48.8" y="419.8" font-size="7.0" text-anchor="end" fill="#000" >100</text>
<text x="48.8" y="439.8" font-size="7.0" text-anchor="end" fill="#000" >75</text>
<text x="48.8" y="460.5" font-size="7.0" text-anchor="end" fill="#000" >50</text>
<text x="48.8" y="480.6" font-size="7.0" text-anchor="end" fill="#000" >25</text>
<text x="48.8" y="500.3" font-size="7.0" text-anchor="end" fill="#000" >0</text>
<text x="50.3" y="508.5" font-size="9.0" text-anchor="start" fill="#000" >dLN</text>
<text x="126.8" y="508.5" font-size="9.0" text-anchor="end" fill="#000" >Tumor</text>
<rect x="151.4" y="417.0" width="75.0" height="81.39999999999998" fill="#7b7b7b"/>
<polygon points="151.4,482.93 226.4,432.87 226.4,498.4 151.4,498.4" fill="#3b3c3e"/>
<polygon points="151.4,491.07 226.4,447.93 226.4,498.4 151.4,498.4" fill="#58acd6"/>
<polygon points="151.4,492.29 226.4,451.59 226.4,498.4 151.4,498.4" fill="#a6d6e8"/>
<polygon points="151.4,493.11 226.4,454.04 226.4,498.4 151.4,498.4" fill="#f6ead8"/>
<polygon points="151.4,493.92 226.4,456.89 226.4,498.4 151.4,498.4" fill="#f9d9b2"/>
<polygon points="151.4,495.55 226.4,472.35 226.4,498.4 151.4,498.4" fill="#f7caa0"/>
<polygon points="151.4,496.77 226.4,487.82 226.4,498.4 151.4,498.4" fill="#f5bc8c"/>
<polyline points="152.0,482.93 152.0,497.79999999999995 225.8,497.79999999999995 225.8,432.87" fill="none" stroke="#e02a32" stroke-width="1.2"/>
<line x1="151.4" y1="482.93" x2="226.4" y2="432.87" stroke="#c41420" stroke-width="2.3"/>
<text x="162.0" y="431.6" font-size="11.5" text-anchor="start" fill="#a3b6d0" >Non-OL</text>
<text x="200.4" y="490" font-size="12" text-anchor="start" fill="#d0303c" >OL</text>
<text x="188.9" y="409.4" font-size="9.1" text-anchor="middle" fill="#000" font-weight="bold" >aPDL1</text>
<text x="149.9" y="419.8" font-size="7.0" text-anchor="end" fill="#000" >100</text>
<text x="149.9" y="439.8" font-size="7.0" text-anchor="end" fill="#000" >75</text>
<text x="149.9" y="460.5" font-size="7.0" text-anchor="end" fill="#000" >50</text>
<text x="149.9" y="480.6" font-size="7.0" text-anchor="end" fill="#000" >25</text>
<text x="149.9" y="500.3" font-size="7.0" text-anchor="end" fill="#000" >0</text>
<text x="151.4" y="508.5" font-size="9.0" text-anchor="start" fill="#000" >dLN</text>
<text x="227.9" y="508.5" font-size="9.0" text-anchor="end" fill="#000" >Tumor</text>
<rect x="253.3" y="417.0" width="75.0" height="81.39999999999998" fill="#7b7b7b"/>
<polygon points="253.3,485.78 328.3,435.48 328.3,498.4 253.3,498.4" fill="#3b3c3e"/>
<polygon points="253.3,492.70 328.3,453.22 328.3,498.4 253.3,498.4" fill="#3a94cc"/>
<polygon points="253.3,493.52 328.3,460.96 328.3,498.4 253.3,498.4" fill="#6db3dd"/>
<polygon points="253.3,494.33 328.3,468.28 328.3,498.4 253.3,498.4" fill="#a2d1e6"/>
<polygon points="253.3,495.14 328.3,476.42 328.3,498.4 253.3,498.4" fill="#d0e9ea"/>
<polygon points="253.3,495.96 328.3,487.00 328.3,498.4 253.3,498.4" fill="#f2eacf"/>
<polygon points="253.3,497.18 328.3,495.14 328.3,498.4 253.3,498.4" fill="#f7dcb8"/>
<polyline points="253.9,485.78 253.9,497.79999999999995 327.7,497.79999999999995 327.7,435.48" fill="none" stroke="#e02a32" stroke-width="1.2"/>
<line x1="253.3" y1="485.78" x2="328.3" y2="435.48" stroke="#c41420" stroke-width="2.3"/>
<text x="263.90000000000003" y="431.6" font-size="11.5" text-anchor="start" fill="#a3b6d0" >Non-OL</text>
<text x="302.3" y="490" font-size="12" text-anchor="start" fill="#d0303c" >OL</text>
<text x="290.8" y="409.4" font-size="9.1" text-anchor="middle" fill="#000" font-weight="bold" >aCD4</text>
<text x="251.8" y="419.8" font-size="7.0" text-anchor="end" fill="#000" >100</text>
<text x="251.8" y="439.8" font-size="7.0" text-anchor="end" fill="#000" >75</text>
<text x="251.8" y="460.5" font-size="7.0" text-anchor="end" fill="#000" >50</text>
<text x="251.8" y="480.6" font-size="7.0" text-anchor="end" fill="#000" >25</text>
<text x="251.8" y="500.3" font-size="7.0" text-anchor="end" fill="#000" >0</text>
<text x="253.3" y="508.5" font-size="9.0" text-anchor="start" fill="#000" >dLN</text>
<text x="329.8" y="508.5" font-size="9.0" text-anchor="end" fill="#000" >Tumor</text>
<rect x="354.4" y="417.0" width="75.0" height="81.39999999999998" fill="#7b7b7b"/>
<polygon points="354.4,475.20 429.4,422.29 429.4,498.4 354.4,498.4" fill="#3a3d40"/>
<polygon points="354.4,493.52 429.4,449.56 429.4,498.4 354.4,498.4" fill="#3a8ec6"/>
<polygon points="354.4,494.33 429.4,453.22 429.4,498.4 354.4,498.4" fill="#8ac6e0"/>
<polygon points="354.4,494.74 429.4,455.66 429.4,498.4 354.4,498.4" fill="#c0e1e2"/>
<polygon points="354.4,495.96 429.4,484.56 429.4,498.4 354.4,498.4" fill="#efe6c9"/>
<polygon points="354.4,497.18 429.4,493.52 429.4,498.4 354.4,498.4" fill="#f6dcb8"/>
<polyline points="355.0,475.20 355.0,497.79999999999995 428.79999999999995,497.79999999999995 428.79999999999995,422.29" fill="none" stroke="#e02a32" stroke-width="1.2"/>
<line x1="354.4" y1="475.20" x2="429.4" y2="422.29" stroke="#c41420" stroke-width="2.3"/>
<text x="365.0" y="431.6" font-size="11.5" text-anchor="start" fill="#a3b6d0" >Non-OL</text>
<text x="403.4" y="490" font-size="12" text-anchor="start" fill="#d0303c" >OL</text>
<text x="391.9" y="409.4" font-size="9.1" text-anchor="middle" fill="#000" font-weight="bold" >CD4+PDL1</text>
<text x="352.9" y="419.8" font-size="7.0" text-anchor="end" fill="#000" >100</text>
<text x="352.9" y="439.8" font-size="7.0" text-anchor="end" fill="#000" >75</text>
<text x="352.9" y="460.5" font-size="7.0" text-anchor="end" fill="#000" >50</text>
<text x="352.9" y="480.6" font-size="7.0" text-anchor="end" fill="#000" >25</text>
<text x="352.9" y="500.3" font-size="7.0" text-anchor="end" fill="#000" >0</text>
<text x="354.4" y="508.5" font-size="9.0" text-anchor="start" fill="#000" >dLN</text>
<text x="430.9" y="508.5" font-size="9.0" text-anchor="end" fill="#000" >Tumor</text>
<text x="2.6" y="526.0" font-size="12.3" text-anchor="start" fill="#000" font-weight="bold" >H</text>
<line x1="40.4" y1="547.2" x2="40.4" y2="625.2" stroke="#000" stroke-width="1.2" />
<line x1="39.8" y1="624.6" x2="186.2" y2="624.6" stroke="#000" stroke-width="1.2" />
<line x1="37.4" y1="624.6" x2="40.4" y2="624.6" stroke="#000" stroke-width="1" />
<text x="35.3" y="627.3000000000001" font-size="7.6" text-anchor="end" fill="#000" >0</text>
<line x1="37.4" y1="598.8000000000001" x2="40.4" y2="598.8000000000001" stroke="#000" stroke-width="1" />
<text x="35.3" y="601.5000000000001" font-size="7.6" text-anchor="end" fill="#000" >20</text>
<line x1="37.4" y1="573.0" x2="40.4" y2="573.0" stroke="#000" stroke-width="1" />
<text x="35.3" y="575.7" font-size="7.6" text-anchor="end" fill="#000" >40</text>
<line x1="37.4" y1="547.2" x2="40.4" y2="547.2" stroke="#000" stroke-width="1" />
<text x="35.3" y="549.9000000000001" font-size="7.6" text-anchor="end" fill="#000" >60</text>
<text transform="translate(20.3,589) rotate(-90)" font-size="8.9" text-anchor="middle">OL clones (dLN, %)</text>
<line x1="58.5" y1="624.6" x2="58.5" y2="627.6" stroke="#000" stroke-width="1" />
<line x1="94.6" y1="624.6" x2="94.6" y2="627.6" stroke="#000" stroke-width="1" />
<line x1="131.2" y1="624.6" x2="131.2" y2="627.6" stroke="#000" stroke-width="1" />
<line x1="167.4" y1="624.6" x2="167.4" y2="627.6" stroke="#000" stroke-width="1" />
<text x="58.9" y="639.5" font-size="9.4" text-anchor="middle" fill="#000" >Control</text>
<text x="95.0" y="639.5" font-size="9.4" text-anchor="middle" fill="#000" >PD-L1</text>
<text x="131.6" y="639.5" font-size="9.4" text-anchor="middle" fill="#000" >CD4</text>
<text x="167.8" y="639.5" font-size="9.4" text-anchor="middle" fill="#000" >CD4+</text>
<text x="167.8" y="649.3" font-size="9.4" text-anchor="middle" fill="#000" >PD-L1</text>
<line x1="55.6" y1="540.2" x2="167.4" y2="540.2" stroke="#9a9a9a" stroke-width="1.1" />
<line x1="55.6" y1="549.5" x2="131.5" y2="549.5" stroke="#9a9a9a" stroke-width="1.1" />
<text x="116.4" y="539.68" font-size="8.0" text-anchor="middle" fill="#000" font-weight="bold" >**</text>
<text x="97.7" y="548.28" font-size="8.0" text-anchor="middle" fill="#000" font-weight="bold" >**</text>
<circle cx="48.50" cy="620.80" r="2.55" fill="#fff" stroke="#000" stroke-width="1.15"/>
<circle cx="53.50" cy="616.90" r="2.55" fill="#fff" stroke="#000" stroke-width="1.15"/>
<circle cx="58.50" cy="620.00" r="2.55" fill="#fff" stroke="#000" stroke-width="1.15"/>
<circle cx="63.10" cy="620.00" r="2.55" fill="#fff" stroke="#000" stroke-width="1.15"/>
<circle cx="68.50" cy="616.90" r="2.55" fill="#fff" stroke="#000" stroke-width="1.15"/>
<circle cx="68.50" cy="622.30" r="2.55" fill="#fff" stroke="#000" stroke-width="1.15"/>
<line x1="51.5" y1="619.2" x2="65.5" y2="619.2" stroke="#000" stroke-width="1.1" />
<line x1="58.5" y1="618.2" x2="58.5" y2="620.2" stroke="#000" stroke-width="1.1" />
<line x1="54.5" y1="618.2" x2="62.5" y2="618.2" stroke="#000" stroke-width="1.1" />
<line x1="54.5" y1="620.2" x2="62.5" y2="620.2" stroke="#000" stroke-width="1.1" />
<circle cx="84.90" cy="602.30" r="2.7" fill="#000" stroke="none" stroke-width="1"/>
<circle cx="94.60" cy="603.10" r="2.7" fill="#000" stroke="none" stroke-width="1"/>
<circle cx="94.60" cy="610.00" r="2.7" fill="#000" stroke="none" stroke-width="1"/>
<circle cx="84.90" cy="615.40" r="2.7" fill="#000" stroke="none" stroke-width="1"/>
<circle cx="94.60" cy="615.70" r="2.7" fill="#000" stroke="none" stroke-width="1"/>
<circle cx="104.60" cy="620.00" r="2.7" fill="#000" stroke="none" stroke-width="1"/>
<circle cx="84.90" cy="623.10" r="2.7" fill="#000" stroke="none" stroke-width="1"/>
<line x1="83.39999999999999" y1="612.8" x2="105.8" y2="612.8" stroke="#000" stroke-width="1.1" />
<line x1="94.6" y1="610" x2="94.6" y2="615.8" stroke="#000" stroke-width="1.1" />
<line x1="89.1" y1="610" x2="100.1" y2="610" stroke="#000" stroke-width="1.1" />
<line x1="89.1" y1="615.8" x2="100.1" y2="615.8" stroke="#000" stroke-width="1.1" />
<circle cx="131.20" cy="555.10" r="2.7" fill="#1010e0" stroke="none" stroke-width="1"/>
<circle cx="131.20" cy="571.80" r="2.7" fill="#1010e0" stroke="none" stroke-width="1"/>
<circle cx="131.20" cy="584.90" r="2.7" fill="#1010e0" stroke="none" stroke-width="1"/>
<circle cx="126.20" cy="590.30" r="2.7" fill="#1010e0" stroke="none" stroke-width="1"/>
<circle cx="136.20" cy="592.60" r="2.7" fill="#1010e0" stroke="none" stroke-width="1"/>
<circle cx="126.20" cy="608.00" r="2.7" fill="#1010e0" stroke="none" stroke-width="1"/>
<circle cx="136.20" cy="608.00" r="2.7" fill="#1010e0" stroke="none" stroke-width="1"/>
<circle cx="131.20" cy="614.90" r="2.7" fill="#1010e0" stroke="none" stroke-width="1"/>
<line x1="119.19999999999999" y1="590.5" x2="143.2" y2="590.5" stroke="#1010e0" stroke-width="1.1" />
<line x1="131.2" y1="583.4" x2="131.2" y2="598" stroke="#1010e0" stroke-width="1.1" />
<line x1="125.69999999999999" y1="583.4" x2="136.7" y2="583.4" stroke="#1010e0" stroke-width="1.1" />
<line x1="125.69999999999999" y1="598" x2="136.7" y2="598" stroke="#1010e0" stroke-width="1.1" />
<circle cx="167.40" cy="561.80" r="2.7" fill="#e8101c" stroke="none" stroke-width="1"/>
<circle cx="167.40" cy="572.00" r="2.7" fill="#e8101c" stroke="none" stroke-width="1"/>
<circle cx="167.40" cy="584.30" r="2.7" fill="#e8101c" stroke="none" stroke-width="1"/>
<circle cx="157.70" cy="590.30" r="2.7" fill="#e8101c" stroke="none" stroke-width="1"/>
<circle cx="167.40" cy="590.30" r="2.7" fill="#e8101c" stroke="none" stroke-width="1"/>
<circle cx="177.20" cy="594.80" r="2.7" fill="#e8101c" stroke="none" stroke-width="1"/>
<circle cx="157.70" cy="597.70" r="2.7" fill="#e8101c" stroke="none" stroke-width="1"/>
<circle cx="167.40" cy="599.20" r="2.7" fill="#e8101c" stroke="none" stroke-width="1"/>
<circle cx="177.20" cy="602.30" r="2.7" fill="#e8101c" stroke="none" stroke-width="1"/>
<circle cx="157.70" cy="604.30" r="2.7" fill="#e8101c" stroke="none" stroke-width="1"/>
<line x1="155.5" y1="589.7" x2="179.3" y2="589.7" stroke="#e8101c" stroke-width="1.1" />
<line x1="167.4" y1="585.4" x2="167.4" y2="594.2" stroke="#e8101c" stroke-width="1.1" />
<line x1="161.9" y1="585.4" x2="172.9" y2="585.4" stroke="#e8101c" stroke-width="1.1" />
<line x1="161.9" y1="594.2" x2="172.9" y2="594.2" stroke="#e8101c" stroke-width="1.1" />
<text x="230.0" y="525.4" font-size="12.3" text-anchor="start" fill="#000" font-weight="bold" >I</text>
<line x1="262.2" y1="544.7" x2="262.2" y2="622.0" stroke="#000" stroke-width="1.2" />
<line x1="261.59999999999997" y1="621.4" x2="407.3" y2="621.4" stroke="#000" stroke-width="1.2" />
<line x1="259.2" y1="621.4" x2="262.2" y2="621.4" stroke="#000" stroke-width="1" />
<text x="257.3" y="624.1" font-size="7.6" text-anchor="end" fill="#000" >0</text>
<line x1="259.2" y1="606.06" x2="262.2" y2="606.06" stroke="#000" stroke-width="1" />
<text x="257.3" y="608.76" font-size="7.6" text-anchor="end" fill="#000" >20</text>
<line x1="259.2" y1="590.72" x2="262.2" y2="590.72" stroke="#000" stroke-width="1" />
<text x="257.3" y="593.4200000000001" font-size="7.6" text-anchor="end" fill="#000" >40</text>
<line x1="259.2" y1="575.38" x2="262.2" y2="575.38" stroke="#000" stroke-width="1" />
<text x="257.3" y="578.08" font-size="7.6" text-anchor="end" fill="#000" >60</text>
<line x1="259.2" y1="560.0400000000001" x2="262.2" y2="560.0400000000001" stroke="#000" stroke-width="1" />
<text x="257.3" y="562.7400000000001" font-size="7.6" text-anchor="end" fill="#000" >80</text>
<line x1="259.2" y1="544.7" x2="262.2" y2="544.7" stroke="#000" stroke-width="1" />
<text x="257.3" y="547.4000000000001" font-size="7.6" text-anchor="end" fill="#000" >100</text>
<text transform="translate(238.6,586) rotate(-90)" font-size="8.6" text-anchor="middle">OL clones (Tumor, %)</text>
<line x1="280.8" y1="621.4" x2="280.8" y2="624.4" stroke="#000" stroke-width="1" />
<line x1="316.9" y1="621.4" x2="316.9" y2="624.4" stroke="#000" stroke-width="1" />
<line x1="353.2" y1="621.4" x2="353.2" y2="624.4" stroke="#000" stroke-width="1" />
<line x1="389.2" y1="621.4" x2="389.2" y2="624.4" stroke="#000" stroke-width="1" />
<text x="281.2" y="636.3" font-size="9.4" text-anchor="middle" fill="#000" >Control</text>
<text x="317.29999999999995" y="636.3" font-size="9.4" text-anchor="middle" fill="#000" >PD-L1</text>
<text x="353.59999999999997" y="636.3" font-size="9.4" text-anchor="middle" fill="#000" >CD4</text>
<text x="389.59999999999997" y="636.3" font-size="9.4" text-anchor="middle" fill="#000" >CD4+</text>
<text x="389.59999999999997" y="646.8" font-size="9.4" text-anchor="middle" fill="#000" >PD-L1</text>
<line x1="277.6" y1="531.6" x2="389.2" y2="531.6" stroke="#9a9a9a" stroke-width="1.1" />
<line x1="277.6" y1="540.8" x2="353.5" y2="540.8" stroke="#9a9a9a" stroke-width="1.1" />
<line x1="277.6" y1="550.4" x2="318.0" y2="550.4" stroke="#9a9a9a" stroke-width="1.1" />
<text x="335.6" y="530.48" font-size="8.0" text-anchor="middle" fill="#000" font-weight="bold" >***</text>
<text x="318.4" y="539.58" font-size="8.0" text-anchor="middle" fill="#000" font-weight="bold" >***</text>
<text x="297.1" y="548.88" font-size="8.0" text-anchor="middle" fill="#000" font-weight="bold" >**</text>
<circle cx="270.90" cy="575.70" r="2.55" fill="#fff" stroke="#000" stroke-width="1.15"/>
<circle cx="280.80" cy="576.20" r="2.55" fill="#fff" stroke="#000" stroke-width="1.15"/>
<circle cx="290.50" cy="575.70" r="2.55" fill="#fff" stroke="#000" stroke-width="1.15"/>
<circle cx="290.50" cy="592.60" r="2.55" fill="#fff" stroke="#000" stroke-width="1.15"/>
<circle cx="280.80" cy="596.50" r="2.55" fill="#fff" stroke="#000" stroke-width="1.15"/>
<circle cx="280.80" cy="608.50" r="2.55" fill="#fff" stroke="#000" stroke-width="1.15"/>
<line x1="268.8" y1="587.2" x2="292.8" y2="587.2" stroke="#000" stroke-width="1.1" />
<line x1="280.8" y1="581.5" x2="280.8" y2="593.1" stroke="#000" stroke-width="1.1" />
<line x1="275.0" y1="581.5" x2="286.6" y2="581.5" stroke="#000" stroke-width="1.1" />
<line x1="275.0" y1="593.1" x2="286.6" y2="593.1" stroke="#000" stroke-width="1.1" />
<circle cx="307.40" cy="559.70" r="2.7" fill="#000" stroke="none" stroke-width="1"/>
<circle cx="316.90" cy="561.80" r="2.7" fill="#000" stroke="none" stroke-width="1"/>
<circle cx="326.60" cy="560.00" r="2.7" fill="#000" stroke="none" stroke-width="1"/>
<circle cx="307.40" cy="567.40" r="2.7" fill="#000" stroke="none" stroke-width="1"/>
<circle cx="326.60" cy="567.70" r="2.7" fill="#000" stroke="none" stroke-width="1"/>
<circle cx="316.90" cy="570.80" r="2.7" fill="#000" stroke="none" stroke-width="1"/>
<circle cx="316.90" cy="580.30" r="2.7" fill="#000" stroke="none" stroke-width="1"/>
<line x1="309.59999999999997" y1="566.5" x2="324.2" y2="566.5" stroke="#000" stroke-width="1.1" />
<line x1="316.9" y1="564.2" x2="316.9" y2="569.2" stroke="#000" stroke-width="1.1" />
<line x1="311.9" y1="564.2" x2="321.9" y2="564.2" stroke="#000" stroke-width="1.1" />
<line x1="311.9" y1="569.2" x2="321.9" y2="569.2" stroke="#000" stroke-width="1.1" />
<circle cx="346.50" cy="553.10" r="2.7" fill="#1010e0" stroke="none" stroke-width="1"/>
<circle cx="353.20" cy="552.30" r="2.7" fill="#1010e0" stroke="none" stroke-width="1"/>
<circle cx="359.60" cy="551.10" r="2.7" fill="#1010e0" stroke="none" stroke-width="1"/>
<circle cx="343.50" cy="558.20" r="2.7" fill="#1010e0" stroke="none" stroke-width="1"/>
<circle cx="343.50" cy="565.40" r="2.7" fill="#1010e0" stroke="none" stroke-width="1"/>
<circle cx="349.90" cy="562.80" r="2.7" fill="#1010e0" stroke="none" stroke-width="1"/>
<circle cx="356.50" cy="563.80" r="2.7" fill="#1010e0" stroke="none" stroke-width="1"/>
<circle cx="362.70" cy="563.40" r="2.7" fill="#1010e0" stroke="none" stroke-width="1"/>
<line x1="343.7" y1="558.8" x2="362.7" y2="558.8" stroke="#6a6af0" stroke-width="1.1" />
<line x1="353.2" y1="556.8" x2="353.2" y2="560.8" stroke="#6a6af0" stroke-width="1.1" />
<line x1="348.2" y1="556.8" x2="358.2" y2="556.8" stroke="#6a6af0" stroke-width="1.1" />
<line x1="348.2" y1="560.8" x2="358.2" y2="560.8" stroke="#6a6af0" stroke-width="1.1" />
<circle cx="379.60" cy="549.50" r="2.7" fill="#e8101c" stroke="none" stroke-width="1"/>
<circle cx="389.20" cy="548.50" r="2.7" fill="#e8101c" stroke="none" stroke-width="1"/>
<circle cx="398.80" cy="550.50" r="2.7" fill="#e8101c" stroke="none" stroke-width="1"/>
<circle cx="379.60" cy="555.70" r="2.7" fill="#e8101c" stroke="none" stroke-width="1"/>
<circle cx="384.50" cy="553.10" r="2.7" fill="#e8101c" stroke="none" stroke-width="1"/>
<circle cx="394.20" cy="555.10" r="2.7" fill="#e8101c" stroke="none" stroke-width="1"/>
<circle cx="398.80" cy="556.90" r="2.7" fill="#e8101c" stroke="none" stroke-width="1"/>
<circle cx="389.20" cy="556.90" r="2.7" fill="#e8101c" stroke="none" stroke-width="1"/>
<circle cx="389.20" cy="562.80" r="2.7" fill="#e8101c" stroke="none" stroke-width="1"/>
<circle cx="389.20" cy="578.80" r="2.7" fill="#e8101c" stroke="none" stroke-width="1"/>
<line x1="383.59999999999997" y1="559.7" x2="394.8" y2="559.7" stroke="#f06060" stroke-width="1.1" />
<line x1="389.2" y1="557.5" x2="389.2" y2="562" stroke="#f06060" stroke-width="1.1" />
<line x1="384.7" y1="557.5" x2="393.7" y2="557.5" stroke="#f06060" stroke-width="1.1" />
<line x1="384.7" y1="562" x2="393.7" y2="562" stroke="#f06060" stroke-width="1.1" />
</svg>
</body></html>
